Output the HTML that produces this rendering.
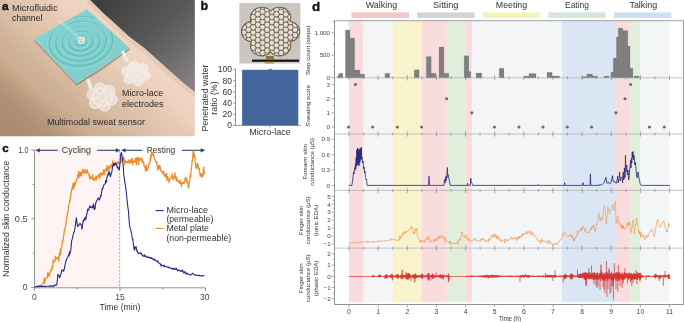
<!DOCTYPE html>
<html><head><meta charset="utf-8"><style>
html,body{margin:0;padding:0;background:#fff;width:685px;height:322px;overflow:hidden}
svg{display:block;font-family:"Liberation Sans", sans-serif;will-change:transform}
</style></head><body>
<svg xmlns="http://www.w3.org/2000/svg" width="685" height="322" viewBox="0 0 685 322" font-family='"Liberation Sans", sans-serif'>
<rect width="685" height="322" fill="#fff"/>
<defs>
<linearGradient id="skin" gradientUnits="userSpaceOnUse" x1="89.9" y1="0" x2="-5.8" y2="108.9"><stop offset="0" stop-color="#f0d6c4"/><stop offset="0.15" stop-color="#eed2c0"/><stop offset="0.25" stop-color="#e6cab4"/><stop offset="0.45" stop-color="#dbbea6"/><stop offset="0.6" stop-color="#d0b298"/><stop offset="0.7" stop-color="#cbac90"/><stop offset="0.75" stop-color="#c6a689"/><stop offset="0.8" stop-color="#b99b7e"/><stop offset="0.9" stop-color="#b09178"/><stop offset="1" stop-color="#ab8c72"/></linearGradient>
<linearGradient id="dark" gradientUnits="userSpaceOnUse" x1="110" y1="0" x2="190" y2="85"><stop offset="0" stop-color="#404040"/><stop offset="0.45" stop-color="#595859"/><stop offset="0.75" stop-color="#6f6e6f"/><stop offset="1" stop-color="#877e85"/></linearGradient>
<linearGradient id="dark2" gradientUnits="userSpaceOnUse" x1="130" y1="25" x2="192" y2="88"><stop offset="0" stop-color="#6e6e6e" stop-opacity="0"/><stop offset="1" stop-color="#707070" stop-opacity="0.9"/></linearGradient>
<linearGradient id="teal" x1="0" y1="0" x2="0.8" y2="1"><stop offset="0" stop-color="#88d2d5"/><stop offset="0.5" stop-color="#84d0d0"/><stop offset="1" stop-color="#80cecb"/></linearGradient>
<pattern id="lace" width="2.8" height="2.42" patternUnits="userSpaceOnUse" patternTransform="rotate(15)"><g fill="none" stroke="#f6f2ee" stroke-width="0.5" stroke-opacity="0.85"><circle cx="1.4" cy="1.21" r="1.05"/><circle cx="0" cy="0" r="1.05"/><circle cx="2.8" cy="0" r="1.05"/><circle cx="0" cy="2.42" r="1.05"/><circle cx="2.8" cy="2.42" r="1.05"/></g></pattern>
<clipPath id="photoA"><rect x="0" y="0" width="194.8" height="136.2"/></clipPath>
<clipPath id="photoB"><rect x="239.2" y="3.0" width="61.4" height="60.7"/></clipPath>
<clipPath id="devclip"><path d="M34,39 L87,9.3 L129.5,48 L100,68.9 L76.3,83.8 Z"/></clipPath>
<radialGradient id="skinhi" cx="0.5" cy="0.5" r="0.5"><stop offset="0" stop-color="#d6bcaa" stop-opacity="0.8"/><stop offset="1" stop-color="#d6bcaa" stop-opacity="0"/></radialGradient>
</defs>
<g clip-path="url(#photoA)">
<rect x="0" y="0" width="195" height="137" fill="url(#skin)"/>
<path d="M89.9,0 L102.4,12.4 L114.8,23.6 L129.7,37.3 L144.8,48.6 L157.3,59.8 L169.7,70.9 L182.1,82.1 L194.5,92 L197,94 L197,0 Z" fill="url(#dark)"/>
<path d="M87.6,0.8 L100.1,13.2 L112.5,24.4 L127.4,38.1 L142.5,49.4 L155,60.6 L167.4,71.7 L179.8,82.9 L192.2,92.8 L196,95.5" fill="none" stroke="#e2c7b3" stroke-width="4.5" opacity="0.8"/>
<path d="M34,39 L76.3,83.8 L100,68.9 L129.5,48 L129.8,50 L100.3,70.9 L76.6,85.8 L34.2,41 Z" fill="#8a6e5a" opacity="0.6"/>
<path d="M34,39 L87,9.3 L129.5,48 L100,68.9 L76.3,83.8 Z" fill="url(#teal)"/>
<g clip-path="url(#devclip)">
<filter id="soft" x="-10%" y="-10%" width="120%" height="120%"><feGaussianBlur stdDeviation="0.7"/></filter>
<g fill="none" filter="url(#soft)">
<ellipse cx="81" cy="41.2" rx="6.0" ry="4.6" transform="rotate(-8 81 41.2)" stroke="#68c4ba" stroke-width="1.9"/>
<ellipse cx="81" cy="43.0" rx="7.5" ry="5.7" transform="rotate(-8 81 43)" stroke="#90d6d8" stroke-width="1.0"/>
<ellipse cx="81" cy="41.2" rx="12.5" ry="9.5" transform="rotate(-8 81 41.2)" stroke="#68c4ba" stroke-width="1.9"/>
<ellipse cx="81" cy="43.0" rx="14.0" ry="10.6" transform="rotate(-8 81 43)" stroke="#90d6d8" stroke-width="1.0"/>
<ellipse cx="81" cy="41.2" rx="19.0" ry="14.4" transform="rotate(-8 81 41.2)" stroke="#68c4ba" stroke-width="1.9"/>
<ellipse cx="81" cy="43.0" rx="20.5" ry="15.6" transform="rotate(-8 81 43)" stroke="#90d6d8" stroke-width="1.0"/>
<ellipse cx="81" cy="41.2" rx="25.5" ry="19.4" transform="rotate(-8 81 41.2)" stroke="#68c4ba" stroke-width="1.9"/>
<ellipse cx="81" cy="43.0" rx="27.0" ry="20.5" transform="rotate(-8 81 43)" stroke="#90d6d8" stroke-width="1.0"/>
<ellipse cx="81" cy="41.2" rx="32.0" ry="24.3" transform="rotate(-8 81 41.2)" stroke="#68c4ba" stroke-width="1.9"/>
<ellipse cx="81" cy="43.0" rx="33.5" ry="25.5" transform="rotate(-8 81 43)" stroke="#90d6d8" stroke-width="1.0"/>
</g>
</g>
<path d="M58,20.5 L77.5,37.8 M59.8,19.8 L79,36.8" stroke="#d6efe9" stroke-width="0.6" fill="none"/>
<circle cx="81.3" cy="40.3" r="3.7" fill="#e6ebe8"/>
<g fill="#8a8f8c"><circle cx="79.8" cy="39.2" r="0.6"/><circle cx="82.3" cy="39" r="0.6"/><circle cx="80.6" cy="41.3" r="0.6"/><circle cx="83" cy="41.2" r="0.6"/><circle cx="81.4" cy="43" r="0.5"/><circle cx="78.8" cy="41.3" r="0.5"/></g>
<path d="M121,51.5 L124,50.5 L129,61 L126,62.5 Z" fill="#ececec"/>
<path d="M86,79.5 L89.5,78.3 L92.8,88 L89.3,89.5 Z" fill="#ececec"/>
<clipPath id="flc1"><ellipse cx="136.00" cy="73.60" rx="8.99" ry="7.73"/><ellipse cx="144.64" cy="75.74" rx="5.51" ry="4.74"/><ellipse cx="138.17" cy="81.10" rx="5.51" ry="4.74"/><ellipse cx="129.53" cy="78.97" rx="5.51" ry="4.74"/><ellipse cx="127.36" cy="71.46" rx="5.51" ry="4.74"/><ellipse cx="133.83" cy="66.10" rx="5.51" ry="4.74"/><ellipse cx="142.47" cy="68.23" rx="5.51" ry="4.74"/></clipPath>
<g fill="none" stroke="#eeeae6" stroke-width="1.0"><ellipse cx="136.00" cy="73.60" rx="8.99" ry="7.73"/><ellipse cx="144.64" cy="75.74" rx="5.51" ry="4.74"/><ellipse cx="138.17" cy="81.10" rx="5.51" ry="4.74"/><ellipse cx="129.53" cy="78.97" rx="5.51" ry="4.74"/><ellipse cx="127.36" cy="71.46" rx="5.51" ry="4.74"/><ellipse cx="133.83" cy="66.10" rx="5.51" ry="4.74"/><ellipse cx="142.47" cy="68.23" rx="5.51" ry="4.74"/></g>
<g opacity="0.18"><g fill="#f4ece6"><ellipse cx="136.00" cy="73.60" rx="8.99" ry="7.73"/><ellipse cx="144.64" cy="75.74" rx="5.51" ry="4.74"/><ellipse cx="138.17" cy="81.10" rx="5.51" ry="4.74"/><ellipse cx="129.53" cy="78.97" rx="5.51" ry="4.74"/><ellipse cx="127.36" cy="71.46" rx="5.51" ry="4.74"/><ellipse cx="133.83" cy="66.10" rx="5.51" ry="4.74"/><ellipse cx="142.47" cy="68.23" rx="5.51" ry="4.74"/></g></g>
<rect x="119.50" y="57.10" width="33.00" height="33.00" fill="url(#lace)" clip-path="url(#flc1)"/>
<clipPath id="flc2"><ellipse cx="102.20" cy="97.00" rx="9.61" ry="8.94"/><ellipse cx="111.44" cy="99.47" rx="5.89" ry="5.48"/><ellipse cx="104.52" cy="105.67" rx="5.89" ry="5.48"/><ellipse cx="95.28" cy="103.20" rx="5.89" ry="5.48"/><ellipse cx="92.96" cy="94.53" rx="5.89" ry="5.48"/><ellipse cx="99.88" cy="88.33" rx="5.89" ry="5.48"/><ellipse cx="109.12" cy="90.80" rx="5.89" ry="5.48"/></clipPath>
<g fill="none" stroke="#eeeae6" stroke-width="1.0"><ellipse cx="102.20" cy="97.00" rx="9.61" ry="8.94"/><ellipse cx="111.44" cy="99.47" rx="5.89" ry="5.48"/><ellipse cx="104.52" cy="105.67" rx="5.89" ry="5.48"/><ellipse cx="95.28" cy="103.20" rx="5.89" ry="5.48"/><ellipse cx="92.96" cy="94.53" rx="5.89" ry="5.48"/><ellipse cx="99.88" cy="88.33" rx="5.89" ry="5.48"/><ellipse cx="109.12" cy="90.80" rx="5.89" ry="5.48"/></g>
<g opacity="0.18"><g fill="#f4ece6"><ellipse cx="102.20" cy="97.00" rx="9.61" ry="8.94"/><ellipse cx="111.44" cy="99.47" rx="5.89" ry="5.48"/><ellipse cx="104.52" cy="105.67" rx="5.89" ry="5.48"/><ellipse cx="95.28" cy="103.20" rx="5.89" ry="5.48"/><ellipse cx="92.96" cy="94.53" rx="5.89" ry="5.48"/><ellipse cx="99.88" cy="88.33" rx="5.89" ry="5.48"/><ellipse cx="109.12" cy="90.80" rx="5.89" ry="5.48"/></g></g>
<rect x="84.70" y="79.50" width="35.00" height="35.00" fill="url(#lace)" clip-path="url(#flc2)"/>
</g>
<text x="2.00" y="10.00" font-size="11.5" fill="#111" text-anchor="start" font-weight="bold" textLength="6.6" lengthAdjust="spacingAndGlyphs" stroke="#111" stroke-width="0.4">a</text>
<text x="12.10" y="10.70" font-size="8.9" fill="#2a2a2a" text-anchor="start" font-weight="normal" textLength="45.6" lengthAdjust="spacingAndGlyphs" >Microfluidic</text>
<text x="12.10" y="20.90" font-size="8.9" fill="#2a2a2a" text-anchor="start" font-weight="normal" textLength="30.3" lengthAdjust="spacingAndGlyphs" >channel</text>
<text x="122.10" y="96.40" font-size="8.9" fill="#2a2a2a" text-anchor="start" font-weight="normal" textLength="41" lengthAdjust="spacingAndGlyphs" >Micro-lace</text>
<text x="122.10" y="106.50" font-size="8.9" fill="#2a2a2a" text-anchor="start" font-weight="normal" textLength="41.5" lengthAdjust="spacingAndGlyphs" >electrodes</text>
<text x="47.00" y="124.90" font-size="8.9" fill="#2a2a2a" text-anchor="start" font-weight="normal" textLength="98" lengthAdjust="spacingAndGlyphs" >Multimodal sweat sensor</text>
<text x="200.60" y="10.30" font-size="12.5" fill="#111" text-anchor="start" font-weight="bold" stroke="#111" stroke-width="0.35">b</text>
<g clip-path="url(#photoB)">
<rect x="239.2" y="3.0" width="61.4" height="60.7" fill="#cac6c3"/>
<g fill="#74602e" stroke="#74602e" stroke-width="2.0"><ellipse cx="270.60" cy="31.60" rx="17.73" ry="16.14"/><ellipse cx="288.33" cy="31.60" rx="10.87" ry="9.89"/><ellipse cx="279.47" cy="45.57" rx="10.87" ry="9.89"/><ellipse cx="261.73" cy="45.57" rx="10.87" ry="9.89"/><ellipse cx="252.87" cy="31.60" rx="10.87" ry="9.89"/><ellipse cx="261.73" cy="17.63" rx="10.87" ry="9.89"/><ellipse cx="279.47" cy="17.63" rx="10.87" ry="9.89"/></g>
<g fill="#756850"><ellipse cx="270.60" cy="31.60" rx="17.73" ry="16.14"/><ellipse cx="288.33" cy="31.60" rx="10.87" ry="9.89"/><ellipse cx="279.47" cy="45.57" rx="10.87" ry="9.89"/><ellipse cx="261.73" cy="45.57" rx="10.87" ry="9.89"/><ellipse cx="252.87" cy="31.60" rx="10.87" ry="9.89"/><ellipse cx="261.73" cy="17.63" rx="10.87" ry="9.89"/><ellipse cx="279.47" cy="17.63" rx="10.87" ry="9.89"/></g>
<clipPath id="fclip"><ellipse cx="270.60" cy="31.60" rx="17.73" ry="16.14"/><ellipse cx="288.33" cy="31.60" rx="10.87" ry="9.89"/><ellipse cx="279.47" cy="45.57" rx="10.87" ry="9.89"/><ellipse cx="261.73" cy="45.57" rx="10.87" ry="9.89"/><ellipse cx="252.87" cy="31.60" rx="10.87" ry="9.89"/><ellipse cx="261.73" cy="17.63" rx="10.87" ry="9.89"/><ellipse cx="279.47" cy="17.63" rx="10.87" ry="9.89"/></clipPath>
<g fill="#e2deda" clip-path="url(#fclip)"><circle cx="234.60" cy="-8.80" r="2.25"/><circle cx="234.60" cy="-3.65" r="2.25"/><circle cx="234.60" cy="1.50" r="2.25"/><circle cx="234.60" cy="6.65" r="2.25"/><circle cx="234.60" cy="11.80" r="2.25"/><circle cx="234.60" cy="16.95" r="2.25"/><circle cx="234.60" cy="22.10" r="2.25"/><circle cx="234.60" cy="27.25" r="2.25"/><circle cx="234.60" cy="32.40" r="2.25"/><circle cx="234.60" cy="37.55" r="2.25"/><circle cx="234.60" cy="42.70" r="2.25"/><circle cx="234.60" cy="47.85" r="2.25"/><circle cx="234.60" cy="53.00" r="2.25"/><circle cx="234.60" cy="58.15" r="2.25"/><circle cx="234.60" cy="63.30" r="2.25"/><circle cx="234.60" cy="68.45" r="2.25"/><circle cx="234.60" cy="73.60" r="2.25"/><circle cx="239.25" cy="-6.23" r="2.25"/><circle cx="239.25" cy="-1.08" r="2.25"/><circle cx="239.25" cy="4.07" r="2.25"/><circle cx="239.25" cy="9.22" r="2.25"/><circle cx="239.25" cy="14.37" r="2.25"/><circle cx="239.25" cy="19.52" r="2.25"/><circle cx="239.25" cy="24.67" r="2.25"/><circle cx="239.25" cy="29.82" r="2.25"/><circle cx="239.25" cy="34.98" r="2.25"/><circle cx="239.25" cy="40.12" r="2.25"/><circle cx="239.25" cy="45.28" r="2.25"/><circle cx="239.25" cy="50.43" r="2.25"/><circle cx="239.25" cy="55.58" r="2.25"/><circle cx="239.25" cy="60.73" r="2.25"/><circle cx="239.25" cy="65.88" r="2.25"/><circle cx="239.25" cy="71.03" r="2.25"/><circle cx="239.25" cy="76.17" r="2.25"/><circle cx="243.90" cy="-8.80" r="2.25"/><circle cx="243.90" cy="-3.65" r="2.25"/><circle cx="243.90" cy="1.50" r="2.25"/><circle cx="243.90" cy="6.65" r="2.25"/><circle cx="243.90" cy="11.80" r="2.25"/><circle cx="243.90" cy="16.95" r="2.25"/><circle cx="243.90" cy="22.10" r="2.25"/><circle cx="243.90" cy="27.25" r="2.25"/><circle cx="243.90" cy="32.40" r="2.25"/><circle cx="243.90" cy="37.55" r="2.25"/><circle cx="243.90" cy="42.70" r="2.25"/><circle cx="243.90" cy="47.85" r="2.25"/><circle cx="243.90" cy="53.00" r="2.25"/><circle cx="243.90" cy="58.15" r="2.25"/><circle cx="243.90" cy="63.30" r="2.25"/><circle cx="243.90" cy="68.45" r="2.25"/><circle cx="243.90" cy="73.60" r="2.25"/><circle cx="248.55" cy="-6.23" r="2.25"/><circle cx="248.55" cy="-1.08" r="2.25"/><circle cx="248.55" cy="4.07" r="2.25"/><circle cx="248.55" cy="9.22" r="2.25"/><circle cx="248.55" cy="14.37" r="2.25"/><circle cx="248.55" cy="19.52" r="2.25"/><circle cx="248.55" cy="24.67" r="2.25"/><circle cx="248.55" cy="29.82" r="2.25"/><circle cx="248.55" cy="34.98" r="2.25"/><circle cx="248.55" cy="40.12" r="2.25"/><circle cx="248.55" cy="45.28" r="2.25"/><circle cx="248.55" cy="50.43" r="2.25"/><circle cx="248.55" cy="55.58" r="2.25"/><circle cx="248.55" cy="60.73" r="2.25"/><circle cx="248.55" cy="65.88" r="2.25"/><circle cx="248.55" cy="71.03" r="2.25"/><circle cx="248.55" cy="76.17" r="2.25"/><circle cx="253.20" cy="-8.80" r="2.25"/><circle cx="253.20" cy="-3.65" r="2.25"/><circle cx="253.20" cy="1.50" r="2.25"/><circle cx="253.20" cy="6.65" r="2.25"/><circle cx="253.20" cy="11.80" r="2.25"/><circle cx="253.20" cy="16.95" r="2.25"/><circle cx="253.20" cy="22.10" r="2.25"/><circle cx="253.20" cy="27.25" r="2.25"/><circle cx="253.20" cy="32.40" r="2.25"/><circle cx="253.20" cy="37.55" r="2.25"/><circle cx="253.20" cy="42.70" r="2.25"/><circle cx="253.20" cy="47.85" r="2.25"/><circle cx="253.20" cy="53.00" r="2.25"/><circle cx="253.20" cy="58.15" r="2.25"/><circle cx="253.20" cy="63.30" r="2.25"/><circle cx="253.20" cy="68.45" r="2.25"/><circle cx="253.20" cy="73.60" r="2.25"/><circle cx="257.85" cy="-6.23" r="2.25"/><circle cx="257.85" cy="-1.08" r="2.25"/><circle cx="257.85" cy="4.07" r="2.25"/><circle cx="257.85" cy="9.22" r="2.25"/><circle cx="257.85" cy="14.37" r="2.25"/><circle cx="257.85" cy="19.52" r="2.25"/><circle cx="257.85" cy="24.67" r="2.25"/><circle cx="257.85" cy="29.82" r="2.25"/><circle cx="257.85" cy="34.98" r="2.25"/><circle cx="257.85" cy="40.12" r="2.25"/><circle cx="257.85" cy="45.28" r="2.25"/><circle cx="257.85" cy="50.43" r="2.25"/><circle cx="257.85" cy="55.58" r="2.25"/><circle cx="257.85" cy="60.73" r="2.25"/><circle cx="257.85" cy="65.88" r="2.25"/><circle cx="257.85" cy="71.03" r="2.25"/><circle cx="257.85" cy="76.17" r="2.25"/><circle cx="262.50" cy="-8.80" r="2.25"/><circle cx="262.50" cy="-3.65" r="2.25"/><circle cx="262.50" cy="1.50" r="2.25"/><circle cx="262.50" cy="6.65" r="2.25"/><circle cx="262.50" cy="11.80" r="2.25"/><circle cx="262.50" cy="16.95" r="2.25"/><circle cx="262.50" cy="22.10" r="2.25"/><circle cx="262.50" cy="27.25" r="2.25"/><circle cx="262.50" cy="32.40" r="2.25"/><circle cx="262.50" cy="37.55" r="2.25"/><circle cx="262.50" cy="42.70" r="2.25"/><circle cx="262.50" cy="47.85" r="2.25"/><circle cx="262.50" cy="53.00" r="2.25"/><circle cx="262.50" cy="58.15" r="2.25"/><circle cx="262.50" cy="63.30" r="2.25"/><circle cx="262.50" cy="68.45" r="2.25"/><circle cx="262.50" cy="73.60" r="2.25"/><circle cx="267.15" cy="-6.23" r="2.25"/><circle cx="267.15" cy="-1.08" r="2.25"/><circle cx="267.15" cy="4.07" r="2.25"/><circle cx="267.15" cy="9.22" r="2.25"/><circle cx="267.15" cy="14.37" r="2.25"/><circle cx="267.15" cy="19.52" r="2.25"/><circle cx="267.15" cy="24.67" r="2.25"/><circle cx="267.15" cy="29.82" r="2.25"/><circle cx="267.15" cy="34.98" r="2.25"/><circle cx="267.15" cy="40.12" r="2.25"/><circle cx="267.15" cy="45.28" r="2.25"/><circle cx="267.15" cy="50.43" r="2.25"/><circle cx="267.15" cy="55.58" r="2.25"/><circle cx="267.15" cy="60.73" r="2.25"/><circle cx="267.15" cy="65.88" r="2.25"/><circle cx="267.15" cy="71.03" r="2.25"/><circle cx="267.15" cy="76.17" r="2.25"/><circle cx="271.80" cy="-8.80" r="2.25"/><circle cx="271.80" cy="-3.65" r="2.25"/><circle cx="271.80" cy="1.50" r="2.25"/><circle cx="271.80" cy="6.65" r="2.25"/><circle cx="271.80" cy="11.80" r="2.25"/><circle cx="271.80" cy="16.95" r="2.25"/><circle cx="271.80" cy="22.10" r="2.25"/><circle cx="271.80" cy="27.25" r="2.25"/><circle cx="271.80" cy="32.40" r="2.25"/><circle cx="271.80" cy="37.55" r="2.25"/><circle cx="271.80" cy="42.70" r="2.25"/><circle cx="271.80" cy="47.85" r="2.25"/><circle cx="271.80" cy="53.00" r="2.25"/><circle cx="271.80" cy="58.15" r="2.25"/><circle cx="271.80" cy="63.30" r="2.25"/><circle cx="271.80" cy="68.45" r="2.25"/><circle cx="271.80" cy="73.60" r="2.25"/><circle cx="276.45" cy="-6.23" r="2.25"/><circle cx="276.45" cy="-1.08" r="2.25"/><circle cx="276.45" cy="4.07" r="2.25"/><circle cx="276.45" cy="9.22" r="2.25"/><circle cx="276.45" cy="14.37" r="2.25"/><circle cx="276.45" cy="19.52" r="2.25"/><circle cx="276.45" cy="24.67" r="2.25"/><circle cx="276.45" cy="29.82" r="2.25"/><circle cx="276.45" cy="34.98" r="2.25"/><circle cx="276.45" cy="40.12" r="2.25"/><circle cx="276.45" cy="45.28" r="2.25"/><circle cx="276.45" cy="50.43" r="2.25"/><circle cx="276.45" cy="55.58" r="2.25"/><circle cx="276.45" cy="60.73" r="2.25"/><circle cx="276.45" cy="65.88" r="2.25"/><circle cx="276.45" cy="71.03" r="2.25"/><circle cx="276.45" cy="76.17" r="2.25"/><circle cx="281.10" cy="-8.80" r="2.25"/><circle cx="281.10" cy="-3.65" r="2.25"/><circle cx="281.10" cy="1.50" r="2.25"/><circle cx="281.10" cy="6.65" r="2.25"/><circle cx="281.10" cy="11.80" r="2.25"/><circle cx="281.10" cy="16.95" r="2.25"/><circle cx="281.10" cy="22.10" r="2.25"/><circle cx="281.10" cy="27.25" r="2.25"/><circle cx="281.10" cy="32.40" r="2.25"/><circle cx="281.10" cy="37.55" r="2.25"/><circle cx="281.10" cy="42.70" r="2.25"/><circle cx="281.10" cy="47.85" r="2.25"/><circle cx="281.10" cy="53.00" r="2.25"/><circle cx="281.10" cy="58.15" r="2.25"/><circle cx="281.10" cy="63.30" r="2.25"/><circle cx="281.10" cy="68.45" r="2.25"/><circle cx="281.10" cy="73.60" r="2.25"/><circle cx="285.75" cy="-6.23" r="2.25"/><circle cx="285.75" cy="-1.08" r="2.25"/><circle cx="285.75" cy="4.07" r="2.25"/><circle cx="285.75" cy="9.22" r="2.25"/><circle cx="285.75" cy="14.37" r="2.25"/><circle cx="285.75" cy="19.52" r="2.25"/><circle cx="285.75" cy="24.67" r="2.25"/><circle cx="285.75" cy="29.82" r="2.25"/><circle cx="285.75" cy="34.98" r="2.25"/><circle cx="285.75" cy="40.12" r="2.25"/><circle cx="285.75" cy="45.28" r="2.25"/><circle cx="285.75" cy="50.43" r="2.25"/><circle cx="285.75" cy="55.58" r="2.25"/><circle cx="285.75" cy="60.73" r="2.25"/><circle cx="285.75" cy="65.88" r="2.25"/><circle cx="285.75" cy="71.03" r="2.25"/><circle cx="285.75" cy="76.17" r="2.25"/><circle cx="290.40" cy="-8.80" r="2.25"/><circle cx="290.40" cy="-3.65" r="2.25"/><circle cx="290.40" cy="1.50" r="2.25"/><circle cx="290.40" cy="6.65" r="2.25"/><circle cx="290.40" cy="11.80" r="2.25"/><circle cx="290.40" cy="16.95" r="2.25"/><circle cx="290.40" cy="22.10" r="2.25"/><circle cx="290.40" cy="27.25" r="2.25"/><circle cx="290.40" cy="32.40" r="2.25"/><circle cx="290.40" cy="37.55" r="2.25"/><circle cx="290.40" cy="42.70" r="2.25"/><circle cx="290.40" cy="47.85" r="2.25"/><circle cx="290.40" cy="53.00" r="2.25"/><circle cx="290.40" cy="58.15" r="2.25"/><circle cx="290.40" cy="63.30" r="2.25"/><circle cx="290.40" cy="68.45" r="2.25"/><circle cx="290.40" cy="73.60" r="2.25"/><circle cx="295.05" cy="-6.23" r="2.25"/><circle cx="295.05" cy="-1.08" r="2.25"/><circle cx="295.05" cy="4.07" r="2.25"/><circle cx="295.05" cy="9.22" r="2.25"/><circle cx="295.05" cy="14.37" r="2.25"/><circle cx="295.05" cy="19.52" r="2.25"/><circle cx="295.05" cy="24.67" r="2.25"/><circle cx="295.05" cy="29.82" r="2.25"/><circle cx="295.05" cy="34.98" r="2.25"/><circle cx="295.05" cy="40.12" r="2.25"/><circle cx="295.05" cy="45.28" r="2.25"/><circle cx="295.05" cy="50.43" r="2.25"/><circle cx="295.05" cy="55.58" r="2.25"/><circle cx="295.05" cy="60.73" r="2.25"/><circle cx="295.05" cy="65.88" r="2.25"/><circle cx="295.05" cy="71.03" r="2.25"/><circle cx="295.05" cy="76.17" r="2.25"/><circle cx="299.70" cy="-8.80" r="2.25"/><circle cx="299.70" cy="-3.65" r="2.25"/><circle cx="299.70" cy="1.50" r="2.25"/><circle cx="299.70" cy="6.65" r="2.25"/><circle cx="299.70" cy="11.80" r="2.25"/><circle cx="299.70" cy="16.95" r="2.25"/><circle cx="299.70" cy="22.10" r="2.25"/><circle cx="299.70" cy="27.25" r="2.25"/><circle cx="299.70" cy="32.40" r="2.25"/><circle cx="299.70" cy="37.55" r="2.25"/><circle cx="299.70" cy="42.70" r="2.25"/><circle cx="299.70" cy="47.85" r="2.25"/><circle cx="299.70" cy="53.00" r="2.25"/><circle cx="299.70" cy="58.15" r="2.25"/><circle cx="299.70" cy="63.30" r="2.25"/><circle cx="299.70" cy="68.45" r="2.25"/><circle cx="299.70" cy="73.60" r="2.25"/><circle cx="304.35" cy="-6.23" r="2.25"/><circle cx="304.35" cy="-1.08" r="2.25"/><circle cx="304.35" cy="4.07" r="2.25"/><circle cx="304.35" cy="9.22" r="2.25"/><circle cx="304.35" cy="14.37" r="2.25"/><circle cx="304.35" cy="19.52" r="2.25"/><circle cx="304.35" cy="24.67" r="2.25"/><circle cx="304.35" cy="29.82" r="2.25"/><circle cx="304.35" cy="34.98" r="2.25"/><circle cx="304.35" cy="40.12" r="2.25"/><circle cx="304.35" cy="45.28" r="2.25"/><circle cx="304.35" cy="50.43" r="2.25"/><circle cx="304.35" cy="55.58" r="2.25"/><circle cx="304.35" cy="60.73" r="2.25"/><circle cx="304.35" cy="65.88" r="2.25"/><circle cx="304.35" cy="71.03" r="2.25"/><circle cx="304.35" cy="76.17" r="2.25"/><circle cx="309.00" cy="-8.80" r="2.25"/><circle cx="309.00" cy="-3.65" r="2.25"/><circle cx="309.00" cy="1.50" r="2.25"/><circle cx="309.00" cy="6.65" r="2.25"/><circle cx="309.00" cy="11.80" r="2.25"/><circle cx="309.00" cy="16.95" r="2.25"/><circle cx="309.00" cy="22.10" r="2.25"/><circle cx="309.00" cy="27.25" r="2.25"/><circle cx="309.00" cy="32.40" r="2.25"/><circle cx="309.00" cy="37.55" r="2.25"/><circle cx="309.00" cy="42.70" r="2.25"/><circle cx="309.00" cy="47.85" r="2.25"/><circle cx="309.00" cy="53.00" r="2.25"/><circle cx="309.00" cy="58.15" r="2.25"/><circle cx="309.00" cy="63.30" r="2.25"/><circle cx="309.00" cy="68.45" r="2.25"/><circle cx="309.00" cy="73.60" r="2.25"/></g>
<rect x="252" y="59.6" width="47" height="2.2" fill="#111"/>
<rect x="266" y="56" width="8" height="3.6" fill="#8a7440"/>
<rect x="265" y="61.8" width="9" height="2" fill="#b99a50"/>
</g>
<g stroke="#777" stroke-width="0.8" fill="none">
<path d="M235.5,69.3 L235.5,125.4 L300.8,125.4"/>
<path d="M233.3,125.40 L235.5,125.40"/>
<path d="M233.3,114.20 L235.5,114.20"/>
<path d="M233.3,103.00 L235.5,103.00"/>
<path d="M233.3,91.80 L235.5,91.80"/>
<path d="M233.3,80.60 L235.5,80.60"/>
<path d="M233.3,69.40 L235.5,69.40"/>
<path d="M234.3,119.80 L235.5,119.80"/>
<path d="M234.3,108.60 L235.5,108.60"/>
<path d="M234.3,97.40 L235.5,97.40"/>
<path d="M234.3,86.20 L235.5,86.20"/>
<path d="M234.3,75.00 L235.5,75.00"/>
<path d="M270.2,125.4 L270.2,127.2"/>
</g>
<rect x="242.1" y="69.8" width="56.2" height="55.6" fill="#45669c"/>
<path d="M268.5,69.3 L272,69.3" stroke="#223" stroke-width="0.6"/>
<text x="232.00" y="128.40" font-size="8.5" fill="#333" text-anchor="end" font-weight="normal" >0</text>
<text x="232.00" y="117.20" font-size="8.5" fill="#333" text-anchor="end" font-weight="normal" >20</text>
<text x="232.00" y="106.00" font-size="8.5" fill="#333" text-anchor="end" font-weight="normal" >40</text>
<text x="232.00" y="94.80" font-size="8.5" fill="#333" text-anchor="end" font-weight="normal" >60</text>
<text x="232.00" y="83.60" font-size="8.5" fill="#333" text-anchor="end" font-weight="normal" >80</text>
<text x="232.00" y="72.40" font-size="8.5" fill="#333" text-anchor="end" font-weight="normal" >100</text>
<text x="207.60" y="98.00" font-size="8.8" fill="#333" text-anchor="middle" font-weight="normal" transform="rotate(-90 207.60 98.00)" >Penetrated water</text>
<text x="217.20" y="98.00" font-size="8.8" fill="#333" text-anchor="middle" font-weight="normal" transform="rotate(-90 217.20 98.00)" >ratio (%)</text>
<text x="270.10" y="134.90" font-size="8.9" fill="#333" text-anchor="middle" font-weight="normal" textLength="41.5" lengthAdjust="spacingAndGlyphs" >Micro-lace</text>
<rect x="34.5" y="145.3" width="85.3" height="142.3" fill="#fef4f3"/>
<text x="2.20" y="152.20" font-size="11.5" fill="#111" text-anchor="start" font-weight="bold" textLength="6.4" lengthAdjust="spacingAndGlyphs" stroke="#111" stroke-width="0.45">c</text>
<g stroke="#777" stroke-width="0.8" fill="none">
<path d="M34.5,150 L34.5,287.8 L205.4,287.8"/>
<path d="M31.2,287.60 L34.5,287.60"/>
<path d="M31.2,218.80 L34.5,218.80"/>
<path d="M31.2,150.00 L34.5,150.00"/>
<path d="M32.6,253.20 L34.5,253.20"/>
<path d="M32.6,184.40 L34.5,184.40"/>
<path d="M34.50,287.8 L34.50,290.8"/>
<path d="M120.00,287.8 L120.00,290.8"/>
<path d="M205.50,287.8 L205.50,290.8"/>
<path d="M77.25,287.8 L77.25,289.6"/>
<path d="M162.75,287.8 L162.75,289.6"/>
</g>
<text x="28.60" y="153.00" font-size="8.5" fill="#444" text-anchor="end" font-weight="normal" textLength="10" lengthAdjust="spacingAndGlyphs" >1.0</text>
<text x="27.60" y="222.00" font-size="8.5" fill="#444" text-anchor="end" font-weight="normal" textLength="12.8" lengthAdjust="spacingAndGlyphs" >0.5</text>
<text x="27.40" y="290.30" font-size="8.5" fill="#444" text-anchor="end" font-weight="normal" >0</text>
<text x="34.30" y="299.60" font-size="8.5" fill="#444" text-anchor="middle" font-weight="normal" >0</text>
<text x="119.90" y="299.60" font-size="8.5" fill="#444" text-anchor="middle" font-weight="normal" >15</text>
<text x="204.80" y="299.60" font-size="8.5" fill="#444" text-anchor="middle" font-weight="normal" >30</text>
<text x="119.90" y="310.20" font-size="8.6" fill="#333" text-anchor="middle" font-weight="normal" textLength="40.9" lengthAdjust="spacingAndGlyphs" >Time (min)</text>
<text x="9.40" y="218.90" font-size="8.9" fill="#333" text-anchor="middle" font-weight="normal" textLength="116.3" lengthAdjust="spacingAndGlyphs" transform="rotate(-90 9.40 218.90)" >Normalized skin conductance</text>
<g stroke="#2f4670" stroke-width="1.1" fill="#2f4670">
<path d="M38.5,150.3 L57.8,150.3" />
<path d="M35.2,150.3 L39.8,148.2 L39.8,152.4 Z" stroke="none"/>
<path d="M97.2,150.3 L116.5,150.3" />
<path d="M120.4,150.3 L115.8,148.2 L115.8,152.4 Z" stroke="none"/>
<path d="M124.8,150.3 L142.5,150.3" />
<path d="M121,150.3 L125.6,148.2 L125.6,152.4 Z" stroke="none"/>
<path d="M182,150.3 L201.5,150.3" />
<path d="M205.3,150.3 L200.7,148.2 L200.7,152.4 Z" stroke="none"/>
</g>
<text x="76.40" y="153.40" font-size="8.9" fill="#333" text-anchor="middle" font-weight="normal" textLength="29.2" lengthAdjust="spacingAndGlyphs" >Cycling</text>
<text x="161.00" y="153.40" font-size="8.9" fill="#333" text-anchor="middle" font-weight="normal" textLength="28.5" lengthAdjust="spacingAndGlyphs" >Resting</text>
<path d="M119.7,151 L119.7,287.5" stroke="#e8707a" stroke-width="0.9" stroke-dasharray="2,1.6"/>
<polyline points="35.70,286.60 36.02,286.84 36.34,286.95 36.65,286.00 36.97,286.38 37.29,286.29 37.61,286.52 37.92,286.87 38.24,286.02 38.56,285.61 38.88,286.91 39.19,286.17 39.51,285.51 39.83,286.15 40.15,286.10 40.46,285.39 40.78,285.96 41.10,286.00 41.41,285.54 41.71,285.14 42.02,284.36 42.32,284.09 42.63,283.64 42.93,283.07 43.24,282.82 43.54,282.22 43.85,281.80 44.16,278.05 44.46,283.36 44.77,280.52 45.07,279.85 45.38,280.05 45.68,279.66 45.99,278.70 46.29,277.64 46.60,277.60 46.91,277.57 47.22,277.45 47.53,275.93 47.84,272.13 48.15,275.32 48.46,275.05 48.77,273.69 49.08,276.66 49.39,276.15 49.70,273.70 50.01,272.95 50.32,272.29 50.63,271.33 50.94,269.63 51.25,269.87 51.56,269.05 51.87,270.06 52.18,266.44 52.49,267.59 52.80,265.20 53.13,259.90 53.46,260.85 53.79,262.36 54.11,261.89 54.44,260.78 54.77,261.31 55.10,259.80 55.44,256.13 55.79,259.47 56.13,259.06 56.47,257.99 56.81,257.88 57.16,258.36 57.50,257.40 57.80,257.26 58.10,257.11 58.40,257.91 58.70,261.19 59.00,258.20 59.33,253.07 59.66,255.79 59.99,253.46 60.31,248.82 60.64,254.74 60.97,249.46 61.30,248.10 61.70,247.28 62.10,245.00 62.42,240.31 62.74,241.04 63.06,240.15 63.38,236.81 63.70,235.70 64.03,233.69 64.36,229.28 64.69,230.76 65.01,228.13 65.34,226.59 65.67,225.78 66.00,223.30 66.33,220.94 66.66,217.64 66.99,216.79 67.31,214.68 67.64,212.37 67.97,212.48 68.30,207.80 68.60,205.56 68.90,205.00 69.20,203.91 69.50,202.31 69.80,199.80 70.10,200.70 70.40,197.28 70.70,195.70 71.00,193.12 71.30,192.45 71.60,190.40 71.90,188.00 72.21,188.17 72.52,188.35 72.83,183.59 73.14,189.44 73.45,186.48 73.76,186.11 74.07,187.82 74.38,182.26 74.69,185.21 75.00,184.80 75.31,184.49 75.62,183.11 75.93,182.03 76.24,181.01 76.55,180.12 76.86,179.52 77.17,178.95 77.48,177.45 77.79,174.50 78.10,175.50 78.41,174.91 78.72,171.39 79.03,178.21 79.34,174.06 79.65,173.41 79.96,172.12 80.27,176.12 80.58,173.04 80.89,172.25 81.20,172.40 81.54,175.45 81.89,172.93 82.23,172.77 82.57,169.72 82.91,172.38 83.26,172.40 83.60,173.20 83.90,169.23 84.20,173.29 84.50,172.81 84.80,172.88 85.10,172.52 85.40,171.00 85.70,170.18 86.00,170.47 86.30,172.20 86.60,172.99 86.90,171.71 87.20,169.66 87.50,172.10 87.81,172.12 88.12,173.29 88.43,173.16 88.74,174.36 89.05,175.06 89.36,177.23 89.67,175.13 89.98,179.29 90.29,176.59 90.60,177.10 90.92,177.20 91.23,177.90 91.55,177.64 91.87,178.44 92.18,178.25 92.50,174.98 92.82,179.48 93.13,178.50 93.45,179.25 93.77,180.39 94.08,178.35 94.40,180.20 94.71,179.73 95.02,180.11 95.33,177.08 95.64,178.16 95.95,177.63 96.26,176.38 96.57,179.55 96.88,176.36 97.19,176.29 97.50,176.30 97.81,176.07 98.12,175.99 98.43,176.05 98.74,174.95 99.05,174.41 99.35,178.52 99.66,174.58 99.97,177.89 100.28,173.95 100.59,172.85 100.90,173.30 101.25,173.86 101.60,174.22 101.95,175.39 102.30,173.17 102.65,173.97 103.00,174.00 103.33,173.63 103.66,169.57 103.99,172.32 104.32,174.64 104.65,171.66 104.98,170.24 105.31,169.68 105.64,169.46 105.97,168.33 106.30,168.40 106.62,171.55 106.95,165.55 107.27,169.96 107.60,170.10 107.92,169.13 108.23,169.23 108.55,166.03 108.86,168.43 109.18,169.91 109.49,168.28 109.81,166.41 110.12,167.20 110.44,166.22 110.75,165.43 111.07,165.01 111.38,164.49 111.70,164.60 112.01,167.96 112.33,165.09 112.64,164.07 112.96,160.63 113.27,164.66 113.59,164.68 113.90,162.61 114.21,164.63 114.53,163.64 114.84,164.49 115.16,163.81 115.47,163.93 115.79,164.18 116.10,164.00 116.41,163.78 116.71,165.28 117.02,161.76 117.33,163.27 117.64,163.86 117.94,162.61 118.25,163.05 118.56,161.55 118.86,163.32 119.17,163.24 119.48,164.23 119.79,162.59 120.09,162.21 120.40,162.40 120.71,162.80 121.03,162.01 121.34,161.54 121.66,157.94 121.97,161.30 122.29,160.44 122.60,160.20 122.91,160.72 123.22,158.22 123.52,156.54 123.83,157.87 124.14,158.92 124.45,160.34 124.76,164.61 125.07,161.70 125.38,160.79 125.68,161.36 125.99,161.56 126.30,161.80 126.61,162.33 126.92,161.36 127.22,162.37 127.53,162.74 127.84,161.45 128.15,162.79 128.46,162.16 128.77,159.94 129.07,162.60 129.38,162.72 129.69,162.84 130.00,162.50 130.31,160.47 130.63,163.02 130.94,159.28 131.25,162.19 131.57,161.63 131.88,160.81 132.19,158.39 132.51,161.74 132.82,164.59 133.13,161.59 133.45,162.22 133.76,161.14 134.07,162.07 134.39,161.39 134.70,161.70 135.00,159.14 135.30,161.97 135.60,158.18 135.90,159.34 136.20,159.90 136.50,164.80 136.80,157.35 137.10,160.81 137.40,158.24 137.70,158.94 138.00,161.31 138.30,157.34 138.60,164.36 138.90,161.30 139.24,160.17 139.57,160.27 139.91,158.08 140.25,158.97 140.59,159.75 140.93,159.14 141.26,158.73 141.60,157.90 141.90,161.95 142.20,159.63 142.50,160.33 142.80,160.25 143.10,162.90 143.40,163.49 143.70,161.80 144.00,165.60 144.31,166.67 144.62,166.20 144.93,167.19 145.24,167.80 145.55,171.31 145.86,168.62 146.17,164.96 146.48,169.31 146.79,170.26 147.10,170.30 147.43,167.93 147.76,168.95 148.09,168.08 148.41,166.86 148.74,165.53 149.07,162.88 149.40,164.00 149.71,162.41 150.02,162.06 150.33,157.21 150.64,160.41 150.95,154.10 151.26,155.73 151.57,156.62 151.88,155.73 152.19,152.32 152.50,153.20 152.83,154.19 153.16,153.38 153.49,155.46 153.81,154.90 154.14,158.37 154.47,158.11 154.80,159.40 155.12,160.41 155.44,160.36 155.76,162.22 156.08,161.08 156.40,162.63 156.72,162.18 157.04,165.41 157.36,165.28 157.68,170.29 158.00,167.20 158.31,165.50 158.61,167.48 158.92,168.43 159.23,165.71 159.53,168.81 159.84,165.91 160.15,165.97 160.45,169.56 160.76,170.67 161.07,170.46 161.37,171.41 161.68,170.85 161.99,172.46 162.29,171.52 162.60,172.60 162.91,173.44 163.22,173.22 163.53,174.43 163.84,171.17 164.15,175.12 164.46,176.28 164.77,175.79 165.08,175.83 165.39,174.29 165.70,176.53 166.01,176.30 166.32,177.74 166.63,173.37 166.94,180.47 167.25,179.06 167.56,176.34 167.87,177.46 168.18,179.20 168.49,180.04 168.80,180.40 169.12,182.85 169.44,179.06 169.76,179.59 170.08,178.89 170.40,178.03 170.72,178.28 171.04,177.54 171.36,176.50 171.68,176.24 172.00,176.00 172.30,173.70 172.60,177.52 172.90,178.88 173.20,179.67 173.50,180.00 173.80,177.87 174.10,176.84 174.40,175.57 174.70,175.64 175.00,172.60 175.33,178.38 175.67,176.43 176.00,178.00 176.31,181.00 176.62,177.20 176.93,179.84 177.23,180.11 177.54,179.87 177.85,180.92 178.16,180.94 178.47,182.27 178.77,181.76 179.08,182.55 179.39,181.63 179.70,183.50 180.01,179.84 180.31,182.21 180.62,183.39 180.93,183.08 181.23,183.32 181.54,186.77 181.85,182.97 182.15,182.72 182.46,183.14 182.77,183.36 183.07,182.43 183.38,182.18 183.69,182.44 183.99,183.48 184.30,182.70 184.64,182.21 184.98,178.27 185.32,180.67 185.66,177.49 186.00,179.00 186.31,177.57 186.63,181.11 186.94,182.65 187.26,180.50 187.57,181.76 187.89,182.54 188.20,187.40 188.50,186.56 188.80,187.99 189.10,184.20 189.40,182.47 189.70,181.11 190.00,176.55 190.30,174.73 190.60,177.30 190.93,173.38 191.26,168.90 191.59,167.48 191.91,164.20 192.24,160.17 192.57,160.41 192.90,154.00 193.20,150.97 193.50,153.83 193.80,151.62 194.10,157.70 194.40,153.70 194.72,157.22 195.04,158.75 195.36,162.55 195.68,165.77 196.00,168.00 196.30,166.75 196.60,168.25 196.90,166.81 197.20,163.73 197.50,163.30 197.80,164.10 198.10,165.98 198.40,167.62 198.70,169.07 199.00,169.67 199.30,168.37 199.60,172.47 199.90,173.40 200.23,176.57 200.56,173.05 200.89,174.48 201.21,173.82 201.54,175.64 201.87,174.40 202.20,177.30 202.52,175.42 202.84,173.74 203.16,175.59 203.48,167.05 203.80,167.20 204.15,171.37 204.50,174.20" fill="none" stroke="#ec8c2a" stroke-width="1.25" stroke-linejoin="round"/>
<polyline points="35.00,286.60 35.36,287.04 35.71,286.84 36.07,286.53 36.42,286.46 36.78,286.51 37.14,286.51 37.49,286.62 37.85,286.59 38.20,286.42 38.56,286.49 38.92,286.46 39.27,286.49 39.63,286.29 39.98,286.36 40.34,286.50 40.70,286.34 41.05,286.43 41.41,286.36 41.76,286.38 42.12,286.35 42.48,286.35 42.83,286.42 43.19,286.29 43.54,286.28 43.90,286.39 44.26,286.37 44.61,286.31 44.97,286.61 45.32,286.25 45.68,286.38 46.04,286.27 46.39,286.23 46.75,286.28 47.10,286.31 47.46,286.22 47.82,286.17 48.17,286.26 48.53,286.15 48.88,286.26 49.24,286.13 49.60,286.27 49.95,286.12 50.31,286.21 50.66,285.66 51.02,286.17 51.38,286.09 51.73,286.08 52.09,286.45 52.44,286.09 52.80,286.10 53.15,286.02 53.51,286.31 53.86,285.65 54.22,285.13 54.57,285.42 54.93,285.71 55.28,285.05 55.64,285.08 55.99,284.89 56.35,285.15 56.70,284.60 57.08,282.26 57.45,279.72 57.83,274.63 58.20,274.50 58.60,275.05 59.00,275.57 59.40,277.16 59.80,277.60 60.18,276.46 60.57,274.91 60.95,273.85 61.33,272.61 61.72,270.72 62.10,269.80 62.50,270.53 62.90,270.59 63.30,270.45 63.70,271.40 64.08,269.18 64.47,268.30 64.85,265.47 65.23,264.18 65.62,262.33 66.00,260.50 66.38,260.12 66.75,258.84 67.12,257.83 67.50,257.40 67.90,256.90 68.30,256.20 68.70,254.17 69.10,255.90 69.50,251.79 69.90,253.76 70.30,251.91 70.70,251.20 71.20,245.68 71.70,240.40 72.13,239.40 72.57,237.82 73.00,235.70 73.38,234.12 73.75,232.83 74.12,231.81 74.50,231.00 74.88,228.64 75.26,225.34 75.64,223.54 76.02,220.42 76.40,217.90 76.80,221.05 77.20,223.90 77.60,226.40 78.00,226.22 78.40,225.61 78.80,225.43 79.20,224.31 79.60,224.18 80.00,223.30 80.38,224.14 80.77,224.58 81.15,224.75 81.53,225.48 81.92,229.35 82.30,227.20 82.68,223.69 83.07,221.29 83.45,219.76 83.83,221.09 84.22,220.38 84.60,218.60 85.00,217.72 85.40,217.20 85.80,219.59 86.20,217.55 86.60,214.26 87.00,214.00 87.38,211.32 87.75,209.06 88.12,210.46 88.50,209.30 88.92,209.00 89.34,207.82 89.76,205.86 90.18,207.22 90.60,206.60 91.10,207.61 91.60,207.80 91.95,207.24 92.30,206.36 92.65,207.85 93.00,206.22 93.35,203.71 93.70,205.00 94.20,209.63 94.70,209.30 95.13,208.29 95.57,204.34 96.00,201.90 96.38,201.57 96.77,200.52 97.15,200.01 97.53,199.05 97.92,198.53 98.30,198.00 98.67,198.39 99.03,199.90 99.40,200.00 99.80,198.87 100.20,196.82 100.60,195.66 101.00,196.69 101.40,192.60 101.80,191.19 102.20,188.31 102.60,189.21 103.00,187.59 103.40,186.59 103.80,184.80 104.18,184.56 104.57,184.27 104.95,183.87 105.33,183.47 105.72,180.33 106.10,182.50 106.47,181.88 106.85,177.17 107.22,176.96 107.60,175.50 107.95,174.31 108.30,173.22 108.65,174.92 109.00,171.10 109.42,172.71 109.85,173.46 110.28,176.60 110.70,176.00 111.12,173.93 111.54,172.22 111.96,171.46 112.38,167.75 112.80,165.10 113.19,166.13 113.57,163.58 113.96,163.58 114.34,163.53 114.73,165.72 115.11,163.64 115.50,162.90 115.87,163.03 116.23,164.42 116.60,165.32 116.97,165.99 117.33,168.00 117.70,166.70 118.10,167.67 118.50,168.12 118.90,169.72 119.30,170.00 119.72,165.93 120.15,162.14 120.58,155.47 121.00,153.20 121.50,152.50 121.87,154.87 122.23,156.80 122.60,159.10 123.00,164.07 123.40,168.69 123.80,175.28 124.20,177.60 124.62,180.77 125.05,183.28 125.48,186.32 125.90,188.70 126.32,192.39 126.74,197.01 127.16,200.68 127.58,204.86 128.00,208.30 128.36,210.01 128.72,215.25 129.08,219.66 129.44,224.25 129.80,226.70 130.18,228.65 130.55,229.51 130.93,230.82 131.30,232.20 131.68,234.51 132.06,236.58 132.44,239.25 132.82,238.92 133.20,243.50 133.60,245.45 134.00,248.40 134.40,250.40 134.82,246.72 135.25,248.18 135.68,248.03 136.10,246.60 136.50,248.93 136.90,251.20 137.26,250.45 137.62,252.61 137.98,252.85 138.34,253.62 138.70,253.80 139.12,253.27 139.55,253.34 139.97,252.97 140.40,252.90 140.82,253.34 141.25,253.97 141.68,253.61 142.10,255.50 142.45,255.79 142.81,255.74 143.16,255.95 143.52,256.14 143.87,256.18 144.22,254.71 144.58,255.22 144.93,256.52 145.29,256.66 145.64,256.32 146.00,255.89 146.35,256.78 146.70,257.08 147.06,256.90 147.41,256.89 147.77,257.41 148.12,257.04 148.47,257.30 148.83,257.68 149.18,257.36 149.54,257.79 149.89,257.28 150.25,258.39 150.60,258.00 150.96,258.23 151.33,258.17 151.69,257.63 152.06,258.71 152.42,259.14 152.79,259.10 153.15,258.89 153.51,259.55 153.88,259.80 154.24,260.09 154.61,259.12 154.97,260.15 155.34,260.40 155.70,260.60 156.06,260.69 156.42,260.92 156.77,260.72 157.13,260.67 157.49,261.84 157.85,260.87 158.21,262.29 158.56,262.53 158.92,263.10 159.28,263.27 159.64,263.43 159.99,263.75 160.35,264.34 160.71,264.16 161.07,266.11 161.43,264.72 161.78,265.13 162.14,265.44 162.50,265.70 162.86,265.95 163.22,265.81 163.57,265.80 163.93,265.10 164.29,266.67 164.65,266.14 165.01,266.46 165.37,266.42 165.72,266.78 166.08,266.82 166.44,266.67 166.80,266.95 167.16,266.89 167.52,267.13 167.88,267.51 168.23,267.19 168.59,267.53 168.95,267.00 169.31,267.86 169.67,268.05 170.03,268.19 170.38,267.87 170.74,268.06 171.10,268.30 171.45,268.59 171.80,268.66 172.16,268.76 172.51,268.45 172.86,269.31 173.21,269.33 173.56,268.70 173.91,267.91 174.27,269.20 174.62,269.33 174.97,269.23 175.32,269.31 175.67,268.62 176.02,269.50 176.38,268.28 176.73,269.70 177.08,269.63 177.43,269.83 177.78,270.97 178.13,269.98 178.49,270.12 178.84,270.42 179.19,270.20 179.54,270.29 179.89,270.70 180.24,270.75 180.60,271.42 180.95,270.80 181.30,270.80 181.66,271.15 182.02,270.33 182.38,271.26 182.75,270.10 183.11,271.85 183.47,271.95 183.83,273.15 184.19,272.33 184.55,272.35 184.92,271.31 185.28,272.59 185.64,272.68 186.00,274.29 186.36,273.33 186.72,273.07 187.08,273.66 187.45,273.62 187.81,273.98 188.17,273.83 188.53,274.23 188.89,274.25 189.25,274.30 189.62,274.63 189.98,274.97 190.34,274.92 190.70,275.10 191.12,274.44 191.55,274.09 191.97,274.06 192.40,273.40 192.77,273.10 193.14,273.80 193.51,274.32 193.89,274.70 194.26,274.80 194.63,274.64 195.00,275.10 195.36,275.11 195.73,274.98 196.09,275.44 196.46,275.07 196.82,275.20 197.19,275.37 197.55,275.51 197.91,275.51 198.28,275.55 198.64,275.60 199.01,275.20 199.37,275.66 199.74,275.56 200.10,275.60 200.46,275.69 200.81,275.86 201.17,275.83 201.53,275.80 201.89,276.00 202.24,275.89 202.60,276.00 202.96,275.82 203.32,275.90 203.68,275.64 204.04,275.36 204.40,275.40" fill="none" stroke="#262a86" stroke-width="1.1" stroke-linejoin="round"/>
<path d="M155.6,210.6 L163.6,210.6" stroke="#262a86" stroke-width="1.1"/>
<path d="M155.6,228.4 L163.6,228.4" stroke="#e98a2c" stroke-width="1.1"/>
<text x="166.40" y="212.70" font-size="8.9" fill="#333" text-anchor="start" font-weight="normal" textLength="41.5" lengthAdjust="spacingAndGlyphs" >Micro-lace</text>
<text x="166.40" y="221.90" font-size="8.9" fill="#333" text-anchor="start" font-weight="normal" textLength="46.9" lengthAdjust="spacingAndGlyphs" >(permeable)</text>
<text x="166.40" y="231.10" font-size="8.9" fill="#333" text-anchor="start" font-weight="normal" textLength="42.5" lengthAdjust="spacingAndGlyphs" >Metal plate</text>
<text x="166.40" y="240.50" font-size="8.9" fill="#333" text-anchor="start" font-weight="normal" textLength="64.8" lengthAdjust="spacingAndGlyphs" >(non-permeable)</text>
<text x="312.10" y="10.50" font-size="13.3" fill="#111" text-anchor="start" font-weight="bold" stroke="#111" stroke-width="0.35">d</text>
<rect x="351.60" y="12.4" width="57.4" height="5.5" fill="#f4c5c7"/>
<text x="381.50" y="8.20" font-size="8.9" fill="#333" text-anchor="middle" font-weight="normal" textLength="31.5" lengthAdjust="spacingAndGlyphs" >Walking</text>
<rect x="417.20" y="12.4" width="57.4" height="5.5" fill="#d2d3d5"/>
<text x="445.70" y="8.20" font-size="8.9" fill="#333" text-anchor="middle" font-weight="normal" textLength="25.3" lengthAdjust="spacingAndGlyphs" >Sitting</text>
<rect x="482.80" y="12.4" width="57.4" height="5.5" fill="#f6f3b8"/>
<text x="511.50" y="8.20" font-size="8.9" fill="#333" text-anchor="middle" font-weight="normal" textLength="31.3" lengthAdjust="spacingAndGlyphs" >Meeting</text>
<rect x="548.40" y="12.4" width="57.4" height="5.5" fill="#d5e6d8"/>
<text x="577.00" y="8.20" font-size="8.9" fill="#333" text-anchor="middle" font-weight="normal" textLength="23.9" lengthAdjust="spacingAndGlyphs" >Eating</text>
<rect x="614.00" y="12.4" width="57.4" height="5.5" fill="#cddff0"/>
<text x="643.30" y="8.20" font-size="8.9" fill="#333" text-anchor="middle" font-weight="normal" textLength="27.7" lengthAdjust="spacingAndGlyphs" >Talking</text>
<rect x="349" y="20.7" width="14.00" height="281.50" fill="#f9dcdd"/>
<rect x="363" y="20.7" width="29.50" height="281.50" fill="#f4f5f7"/>
<rect x="392.5" y="20.7" width="29.20" height="281.50" fill="#f8f2cd"/>
<rect x="421.7" y="20.7" width="25.10" height="281.50" fill="#f9dcdd"/>
<rect x="446.8" y="20.7" width="18.80" height="281.50" fill="#e0eedb"/>
<rect x="465.6" y="20.7" width="6.30" height="281.50" fill="#f9dcdd"/>
<rect x="471.9" y="20.7" width="90.10" height="281.50" fill="#f4f5f7"/>
<rect x="562" y="20.7" width="54.00" height="281.50" fill="#dbe6f4"/>
<rect x="616" y="20.7" width="14.50" height="281.50" fill="#f9dcdd"/>
<rect x="630.5" y="20.7" width="10.00" height="281.50" fill="#e0eedb"/>
<rect x="640.5" y="20.7" width="28.70" height="281.50" fill="#f4f5f7"/>
<path d="M334.5,20.7 L683.5,20.7 L683.5,304.5" stroke="#999" stroke-width="0.9" fill="none"/>
<path d="M334.5,20.7 L334.5,304.5 L683.5,304.5" stroke="#888" stroke-width="0.9" fill="none"/>
<path d="M334.5,77.8 L683.5,77.8" stroke="#b4b4b4" stroke-width="0.8"/>
<path d="M334.5,134.0 L683.5,134.0" stroke="#b4b4b4" stroke-width="0.8"/>
<path d="M334.5,190.4 L683.5,190.4" stroke="#b4b4b4" stroke-width="0.8"/>
<path d="M334.5,248.1 L683.5,248.1" stroke="#b4b4b4" stroke-width="0.8"/>
<path d="M349.00,75.20 L349.00,80.40 M349.00,131.40 L349.00,136.60 M349.00,187.80 L349.00,193.00 M349.00,245.50 L349.00,250.70 M349.00,304.50 L349.00,307.50 M363.57,76.40 L363.57,79.20 M363.57,132.60 L363.57,135.40 M363.57,189.00 L363.57,191.80 M363.57,246.70 L363.57,249.50 M378.14,75.20 L378.14,80.40 M378.14,131.40 L378.14,136.60 M378.14,187.80 L378.14,193.00 M378.14,245.50 L378.14,250.70 M378.14,304.50 L378.14,307.50 M392.71,76.40 L392.71,79.20 M392.71,132.60 L392.71,135.40 M392.71,189.00 L392.71,191.80 M392.71,246.70 L392.71,249.50 M407.28,75.20 L407.28,80.40 M407.28,131.40 L407.28,136.60 M407.28,187.80 L407.28,193.00 M407.28,245.50 L407.28,250.70 M407.28,304.50 L407.28,307.50 M421.85,76.40 L421.85,79.20 M421.85,132.60 L421.85,135.40 M421.85,189.00 L421.85,191.80 M421.85,246.70 L421.85,249.50 M436.42,75.20 L436.42,80.40 M436.42,131.40 L436.42,136.60 M436.42,187.80 L436.42,193.00 M436.42,245.50 L436.42,250.70 M436.42,304.50 L436.42,307.50 M450.99,76.40 L450.99,79.20 M450.99,132.60 L450.99,135.40 M450.99,189.00 L450.99,191.80 M450.99,246.70 L450.99,249.50 M465.56,75.20 L465.56,80.40 M465.56,131.40 L465.56,136.60 M465.56,187.80 L465.56,193.00 M465.56,245.50 L465.56,250.70 M465.56,304.50 L465.56,307.50 M480.13,76.40 L480.13,79.20 M480.13,132.60 L480.13,135.40 M480.13,189.00 L480.13,191.80 M480.13,246.70 L480.13,249.50 M494.70,75.20 L494.70,80.40 M494.70,131.40 L494.70,136.60 M494.70,187.80 L494.70,193.00 M494.70,245.50 L494.70,250.70 M494.70,304.50 L494.70,307.50 M509.27,76.40 L509.27,79.20 M509.27,132.60 L509.27,135.40 M509.27,189.00 L509.27,191.80 M509.27,246.70 L509.27,249.50 M523.84,75.20 L523.84,80.40 M523.84,131.40 L523.84,136.60 M523.84,187.80 L523.84,193.00 M523.84,245.50 L523.84,250.70 M523.84,304.50 L523.84,307.50 M538.41,76.40 L538.41,79.20 M538.41,132.60 L538.41,135.40 M538.41,189.00 L538.41,191.80 M538.41,246.70 L538.41,249.50 M552.98,75.20 L552.98,80.40 M552.98,131.40 L552.98,136.60 M552.98,187.80 L552.98,193.00 M552.98,245.50 L552.98,250.70 M552.98,304.50 L552.98,307.50 M567.55,76.40 L567.55,79.20 M567.55,132.60 L567.55,135.40 M567.55,189.00 L567.55,191.80 M567.55,246.70 L567.55,249.50 M582.12,75.20 L582.12,80.40 M582.12,131.40 L582.12,136.60 M582.12,187.80 L582.12,193.00 M582.12,245.50 L582.12,250.70 M582.12,304.50 L582.12,307.50 M596.69,76.40 L596.69,79.20 M596.69,132.60 L596.69,135.40 M596.69,189.00 L596.69,191.80 M596.69,246.70 L596.69,249.50 M611.26,75.20 L611.26,80.40 M611.26,131.40 L611.26,136.60 M611.26,187.80 L611.26,193.00 M611.26,245.50 L611.26,250.70 M611.26,304.50 L611.26,307.50 M625.83,76.40 L625.83,79.20 M625.83,132.60 L625.83,135.40 M625.83,189.00 L625.83,191.80 M625.83,246.70 L625.83,249.50 M640.40,75.20 L640.40,80.40 M640.40,131.40 L640.40,136.60 M640.40,187.80 L640.40,193.00 M640.40,245.50 L640.40,250.70 M640.40,304.50 L640.40,307.50 M654.97,76.40 L654.97,79.20 M654.97,132.60 L654.97,135.40 M654.97,189.00 L654.97,191.80 M654.97,246.70 L654.97,249.50 M669.54,75.20 L669.54,80.40 M669.54,131.40 L669.54,136.60 M669.54,187.80 L669.54,193.00 M669.54,245.50 L669.54,250.70 M669.54,304.50 L669.54,307.50" stroke="#888" stroke-width="0.7"/>
<text x="349.00" y="313.80" font-size="6.8" fill="#444" text-anchor="middle" font-weight="normal" >0</text>
<text x="378.14" y="313.80" font-size="6.8" fill="#444" text-anchor="middle" font-weight="normal" >1</text>
<text x="407.28" y="313.80" font-size="6.8" fill="#444" text-anchor="middle" font-weight="normal" >2</text>
<text x="436.42" y="313.80" font-size="6.8" fill="#444" text-anchor="middle" font-weight="normal" >3</text>
<text x="465.56" y="313.80" font-size="6.8" fill="#444" text-anchor="middle" font-weight="normal" >4</text>
<text x="494.70" y="313.80" font-size="6.8" fill="#444" text-anchor="middle" font-weight="normal" >5</text>
<text x="523.84" y="313.80" font-size="6.8" fill="#444" text-anchor="middle" font-weight="normal" >6</text>
<text x="552.98" y="313.80" font-size="6.8" fill="#444" text-anchor="middle" font-weight="normal" >7</text>
<text x="582.12" y="313.80" font-size="6.8" fill="#444" text-anchor="middle" font-weight="normal" >8</text>
<text x="611.26" y="313.80" font-size="6.8" fill="#444" text-anchor="middle" font-weight="normal" >9</text>
<text x="640.40" y="313.80" font-size="6.8" fill="#444" text-anchor="middle" font-weight="normal" >10</text>
<text x="669.54" y="313.80" font-size="6.8" fill="#444" text-anchor="middle" font-weight="normal" >11</text>
<text x="509.90" y="321.00" font-size="6.5" fill="#333" text-anchor="middle" font-weight="normal" textLength="22" lengthAdjust="spacingAndGlyphs" >Time (h)</text>
<path d="M345.4,77.8 L345.4,30 L350,30 L350,77.8 Z M350,77.8 L350,37.9 L354.7,37.9 L354.7,77.8 Z M354.7,77.8 L354.7,69.9 L359.9,69.9 L359.9,77.8 Z M359.9,77.8 L359.9,74.1 L364.7,74.1 L364.7,77.8 Z M384.9,77.8 L384.9,73.2 L389.7,73.2 L389.7,77.8 Z M414.2,77.8 L414.2,69.7 L419.2,69.7 L419.2,77.8 Z M426.3,77.8 L426.3,56.4 L431.2,56.4 L431.2,77.8 Z M431.2,77.8 L431.2,73.2 L436,73.2 L436,77.8 Z M439,77.8 L439,47 L444,47 L444,77.8 Z M444,77.8 L444,73.2 L448.8,73.2 L448.8,77.8 Z M464.1,77.8 L464.1,55.8 L468.9,55.8 L468.9,77.8 Z M468.9,77.8 L468.9,71.6 L470.8,71.6 L470.8,77.8 Z M476,77.8 L476,73 L481.8,73 L481.8,77.8 Z M499.2,77.8 L499.2,68.2 L504,68.2 L504,77.8 Z M524.2,77.8 L524.2,76.1 L529,76.1 L529,77.8 Z M529,77.8 L529,73.6 L536,73.6 L536,77.8 Z M547,77.8 L547,72.2 L552.1,72.2 L552.1,77.8 Z M552.1,77.8 L552.1,76.1 L559.5,76.1 L559.5,77.8 Z M582,77.8 L582,76.5 L586.8,76.5 L586.8,77.8 Z M586.8,77.8 L586.8,74.1 L592.6,74.1 L592.6,77.8 Z M592.6,77.8 L592.6,76.1 L597.4,76.1 L597.4,77.8 Z M604.1,77.8 L604.1,76.1 L609,76.1 L609,77.8 Z M610.9,77.8 L610.9,72 L613.2,72 L613.2,77.8 Z M613.2,77.8 L613.2,58 L616.3,58 L616.3,77.8 Z M616.3,77.8 L616.3,37 L618.2,37 L618.2,77.8 Z M618.2,77.8 L618.2,28.1 L622.8,28.1 L622.8,77.8 Z M622.8,77.8 L622.8,30.6 L627.8,30.6 L627.8,77.8 Z M627.8,77.8 L627.8,46 L630.1,46 L630.1,77.8 Z M630.1,77.8 L630.1,68.2 L633,68.2 L633,77.8 Z M634,77.8 L634,76.1 L639.2,76.1 L639.2,77.8 Z M337,77.8 L339.3,73.3 L342.9,73.3 L342.9,77.8 Z" fill="#7e807f" stroke="#7e807f" stroke-width="0.15"/>
<g stroke="#888" stroke-width="0.7">
<path d="M331.5,77.60 L334.5,77.60"/>
<path d="M331.5,55.20 L334.5,55.20"/>
<path d="M331.5,32.80 L334.5,32.80"/>
<path d="M332.9,66.40 L334.5,66.40"/>
<path d="M332.9,44.00 L334.5,44.00"/>
<path d="M332.9,21.60 L334.5,21.60"/>
</g>
<text x="330.00" y="79.80" font-size="6.2" fill="#444" text-anchor="end" font-weight="normal" >0</text>
<text x="330.00" y="57.40" font-size="6.2" fill="#444" text-anchor="end" font-weight="normal" >500</text>
<text x="330.00" y="35.00" font-size="6.2" fill="#444" text-anchor="end" font-weight="normal" >1,000</text>
<text x="310.00" y="50.30" font-size="6.1" fill="#333" text-anchor="middle" font-weight="normal" transform="rotate(-90 310.00 50.30)" >Step count (steps)</text>
<g stroke="#888" stroke-width="0.7">
<path d="M331.5,127.00 L334.5,127.00"/>
<path d="M331.5,112.85 L334.5,112.85"/>
<path d="M331.5,98.70 L334.5,98.70"/>
<path d="M331.5,84.55 L334.5,84.55"/>
<path d="M332.9,119.92 L334.5,119.92"/>
<path d="M332.9,105.78 L334.5,105.78"/>
<path d="M332.9,91.62 L334.5,91.62"/>
</g>
<text x="330.00" y="129.20" font-size="6.2" fill="#444" text-anchor="end" font-weight="normal" >0</text>
<text x="330.00" y="115.05" font-size="6.2" fill="#444" text-anchor="end" font-weight="normal" >1</text>
<text x="330.00" y="100.90" font-size="6.2" fill="#444" text-anchor="end" font-weight="normal" >2</text>
<text x="330.00" y="86.75" font-size="6.2" fill="#444" text-anchor="end" font-weight="normal" >3</text>
<text x="310.20" y="105.80" font-size="6.1" fill="#333" text-anchor="middle" font-weight="normal" transform="rotate(-90 310.20 105.80)" >Sweating score</text>
<circle cx="348.6" cy="127.00" r="1.55" fill="#6a6a6a"/>
<circle cx="355.5" cy="84.55" r="1.55" fill="#6a6a6a"/>
<circle cx="372.6" cy="127.00" r="1.55" fill="#6a6a6a"/>
<circle cx="397.3" cy="127.00" r="1.55" fill="#6a6a6a"/>
<circle cx="421.6" cy="127.00" r="1.55" fill="#6a6a6a"/>
<circle cx="446.6" cy="98.70" r="1.55" fill="#6a6a6a"/>
<circle cx="471.8" cy="112.85" r="1.55" fill="#6a6a6a"/>
<circle cx="494.4" cy="127.00" r="1.55" fill="#6a6a6a"/>
<circle cx="518.9" cy="127.00" r="1.55" fill="#6a6a6a"/>
<circle cx="543" cy="127.00" r="1.55" fill="#6a6a6a"/>
<circle cx="567.3" cy="127.00" r="1.55" fill="#6a6a6a"/>
<circle cx="591.6" cy="127.00" r="1.55" fill="#6a6a6a"/>
<circle cx="615.9" cy="112.85" r="1.55" fill="#6a6a6a"/>
<circle cx="625" cy="98.70" r="1.55" fill="#6a6a6a"/>
<circle cx="630.6" cy="84.55" r="1.55" fill="#6a6a6a"/>
<circle cx="649.5" cy="127.00" r="1.55" fill="#6a6a6a"/>
<circle cx="664.3" cy="127.00" r="1.55" fill="#6a6a6a"/>
<g stroke="#888" stroke-width="0.7">
<path d="M331.5,185.60 L334.5,185.60"/>
<path d="M331.5,170.10 L334.5,170.10"/>
<path d="M331.5,154.60 L334.5,154.60"/>
<path d="M331.5,139.10 L334.5,139.10"/>
<path d="M332.9,177.85 L334.5,177.85"/>
<path d="M332.9,162.35 L334.5,162.35"/>
<path d="M332.9,146.85 L334.5,146.85"/>
</g>
<text x="330.00" y="187.80" font-size="6.2" fill="#444" text-anchor="end" font-weight="normal" >0</text>
<text x="330.00" y="172.30" font-size="6.2" fill="#444" text-anchor="end" font-weight="normal" >0.3</text>
<text x="330.00" y="156.80" font-size="6.2" fill="#444" text-anchor="end" font-weight="normal" >0.6</text>
<text x="330.00" y="141.30" font-size="6.2" fill="#444" text-anchor="end" font-weight="normal" >0.9</text>
<text x="307.00" y="161.80" font-size="6.1" fill="#333" text-anchor="middle" font-weight="normal" transform="rotate(-90 307.00 161.80)" >Forearm skin</text>
<text x="313.80" y="161.80" font-size="6.1" fill="#333" text-anchor="middle" font-weight="normal" transform="rotate(-90 313.80 161.80)" >conductance (μS)</text>
<polyline points="348.70,185.40 351.80,185.40 352.60,181.00 353.20,175.00 353.60,172.00 354.00,174.00 354.40,169.90 354.80,171.00 354.80,167.43 355.13,169.45 355.46,163.46 355.79,169.01 356.12,157.77 356.45,165.76 356.78,150.05 357.11,162.73 357.44,148.02 357.77,165.41 358.10,148.59 358.43,164.07 358.76,151.23 359.09,165.70 359.42,149.63 359.75,162.80 360.08,148.65 360.41,160.40 360.74,148.18 361.07,158.08 361.40,147.07 361.73,159.37 362.00,157.10 362.60,163.00 363.00,161.00 363.70,169.10 364.10,167.00 364.60,173.00 365.00,171.00 365.40,177.60 366.20,180.00 366.60,179.00 367.10,185.40 428.70,185.40 429.00,176.30 429.30,185.40 443.80,185.40 444.70,179.60 445.10,183.00 445.60,176.80 446.00,181.00 446.60,175.40 447.00,178.00 447.30,167.50 447.60,175.00 448.00,174.00 448.90,178.60 450.30,185.40 467.20,185.40 467.50,183.30 467.80,185.40 470.20,185.40 470.80,178.20 471.20,182.00 471.70,182.40 472.70,185.40 538.00,185.40 538.30,184.40 538.80,185.40 564.40,185.40 564.70,182.60 565.00,185.40 582.50,185.40 583.00,182.60 583.50,185.40 590.00,185.40 590.40,173.90 590.80,185.40 599.50,185.40 599.90,184.10 601.30,185.40 604.10,182.70 605.90,177.40 606.90,183.40 608.30,182.00 609.70,184.10 611.10,182.00 612.50,175.70 613.20,182.00 614.60,181.30 616.00,183.40 617.30,179.90 617.60,176.00 618.20,183.00 619.00,179.00 619.60,172.00 620.30,181.00 621.00,178.00 622.00,176.70 622.60,183.00 623.20,172.00 623.80,180.00 624.40,168.00 625.00,178.00 625.50,155.20 625.90,172.00 626.40,166.00 626.90,165.00 627.40,175.00 628.00,170.00 628.60,180.00 629.00,179.00 629.60,170.00 630.20,165.00 630.60,160.40 631.00,168.00 631.40,158.00 631.80,163.00 632.20,152.00 632.60,158.00 633.00,151.50 633.40,160.00 633.80,155.00 634.30,156.90 634.80,165.00 635.30,162.00 636.00,168.60 636.50,175.00 637.10,177.90 637.60,174.00 638.30,172.00 638.90,178.00 639.50,180.20 640.20,184.00 641.10,185.40 669.90,185.40" fill="none" stroke="#232877" stroke-width="0.8" stroke-linejoin="round"/>
<g stroke="#888" stroke-width="0.7">
<path d="M331.5,244.05 L334.5,244.05"/>
<path d="M331.5,236.10 L334.5,236.10"/>
<path d="M331.5,228.15 L334.5,228.15"/>
<path d="M331.5,220.20 L334.5,220.20"/>
<path d="M331.5,212.25 L334.5,212.25"/>
<path d="M331.5,204.30 L334.5,204.30"/>
<path d="M331.5,196.35 L334.5,196.35"/>
<path d="M332.9,240.07 L334.5,240.07"/>
<path d="M332.9,232.12 L334.5,232.12"/>
<path d="M332.9,224.17 L334.5,224.17"/>
<path d="M332.9,216.22 L334.5,216.22"/>
<path d="M332.9,208.28 L334.5,208.28"/>
<path d="M332.9,200.32 L334.5,200.32"/>
</g>
<text x="330.60" y="246.25" font-size="6.2" fill="#444" text-anchor="end" font-weight="normal" >−1</text>
<text x="330.60" y="238.30" font-size="6.2" fill="#444" text-anchor="end" font-weight="normal" >0</text>
<text x="330.60" y="230.35" font-size="6.2" fill="#444" text-anchor="end" font-weight="normal" >1</text>
<text x="330.60" y="222.40" font-size="6.2" fill="#444" text-anchor="end" font-weight="normal" >2</text>
<text x="330.60" y="214.45" font-size="6.2" fill="#444" text-anchor="end" font-weight="normal" >3</text>
<text x="330.60" y="206.50" font-size="6.2" fill="#444" text-anchor="end" font-weight="normal" >4</text>
<text x="330.60" y="198.55" font-size="6.2" fill="#444" text-anchor="end" font-weight="normal" >5</text>
<text x="303.30" y="220.40" font-size="6.1" fill="#333" text-anchor="middle" font-weight="normal" transform="rotate(-90 303.30 220.40)" >Finger skin</text>
<text x="310.50" y="220.40" font-size="6.1" fill="#333" text-anchor="middle" font-weight="normal" transform="rotate(-90 310.50 220.40)" >conductance (μS)</text>
<text x="317.70" y="220.40" font-size="6.1" fill="#333" text-anchor="middle" font-weight="normal" transform="rotate(-90 317.70 220.40)" >(tonic EDA)</text>
<polyline points="348.80,242.90 349.11,242.96 349.42,242.82 349.73,242.81 350.04,242.93 350.35,242.69 350.66,242.80 350.98,242.85 351.29,243.00 351.60,242.78 351.91,242.99 352.22,242.79 352.53,242.64 352.84,242.95 353.15,241.91 353.46,242.87 353.77,242.88 354.08,242.58 354.39,242.71 354.70,243.33 355.01,242.53 355.32,242.73 355.64,242.14 355.95,242.08 356.26,241.96 356.57,242.63 356.88,242.53 357.19,242.62 357.50,242.60 357.80,242.61 358.11,242.88 358.41,243.09 358.71,242.50 359.02,242.62 359.32,242.55 359.62,242.31 359.93,242.81 360.23,242.58 360.53,242.33 360.84,241.55 361.14,242.54 361.44,242.38 361.75,242.13 362.05,242.43 362.36,242.43 362.66,242.17 362.96,242.41 363.27,242.39 363.57,242.14 363.87,242.05 364.18,242.29 364.48,242.24 364.78,241.97 365.09,241.96 365.39,241.98 365.69,241.89 366.00,241.97 366.30,242.00 366.61,241.07 366.92,241.95 367.23,241.94 367.54,241.36 367.85,242.79 368.16,241.85 368.48,242.13 368.79,241.86 369.10,242.09 369.41,241.46 369.72,241.89 370.03,241.85 370.34,241.90 370.65,242.04 370.96,241.90 371.27,241.89 371.58,241.85 371.89,242.02 372.20,242.11 372.51,242.06 372.82,241.92 373.14,241.23 373.45,243.05 373.76,242.12 374.07,241.88 374.38,241.84 374.69,242.13 375.00,242.00 375.31,241.90 375.62,241.89 375.94,241.91 376.25,241.15 376.56,241.83 376.87,241.68 377.18,241.75 377.49,241.76 377.81,241.05 378.12,242.00 378.43,240.41 378.74,241.30 379.05,241.41 379.36,241.52 379.68,241.19 379.99,241.26 380.30,241.20 380.60,241.24 380.91,241.91 381.21,240.94 381.52,240.30 381.82,240.88 382.13,241.15 382.43,241.18 382.73,241.09 383.04,241.01 383.34,240.95 383.65,241.09 383.95,240.82 384.26,240.94 384.56,240.89 384.87,241.61 385.17,240.53 385.47,240.84 385.78,240.63 386.08,240.89 386.39,240.70 386.69,240.48 387.00,240.10 387.30,240.60 387.61,240.60 387.91,240.45 388.22,240.19 388.52,240.17 388.83,240.82 389.14,240.20 389.44,240.23 389.75,240.64 390.05,240.16 390.36,240.44 390.66,238.79 390.97,238.99 391.28,239.53 391.58,239.60 391.89,238.71 392.19,239.66 392.50,239.40 392.81,239.55 393.12,239.60 393.44,239.62 393.75,239.61 394.06,239.59 394.37,239.55 394.68,239.82 394.99,239.90 395.31,239.71 395.62,239.74 395.93,239.84 396.24,240.50 396.55,240.48 396.86,239.74 397.18,240.00 397.49,240.13 397.80,240.30 398.12,239.76 398.44,239.14 398.75,239.44 399.07,240.73 399.39,238.80 399.71,235.65 400.03,237.16 400.35,238.55 400.66,236.34 400.98,236.20 401.30,235.90 401.61,236.04 401.91,235.21 402.22,234.81 402.52,235.41 402.83,232.69 403.14,234.59 403.44,234.40 403.75,234.58 404.05,233.71 404.36,233.78 404.66,231.62 404.97,233.45 405.28,233.26 405.58,232.67 405.89,230.76 406.19,232.44 406.50,232.40 406.81,232.17 407.12,231.67 407.44,231.14 407.75,231.23 408.06,231.25 408.38,230.84 408.69,229.95 409.00,230.00 409.31,229.59 409.62,228.94 409.94,228.55 410.25,227.88 410.56,227.39 410.88,226.95 411.19,228.31 411.50,226.30 411.80,227.29 412.10,228.03 412.40,228.91 412.70,228.30 413.00,233.48 413.30,232.51 413.60,233.30 413.93,232.25 414.25,233.82 414.57,230.98 414.90,230.71 415.23,229.62 415.55,228.88 415.88,231.06 416.20,228.00 416.54,228.22 416.88,232.27 417.22,234.19 417.56,236.18 417.90,237.70 418.22,237.76 418.54,238.32 418.85,239.05 419.17,238.89 419.49,239.89 419.81,241.83 420.13,240.29 420.45,242.32 420.76,241.07 421.08,241.13 421.40,242.00 421.71,241.82 422.03,240.45 422.34,241.69 422.66,241.70 422.97,241.04 423.29,241.31 423.60,241.46 423.91,240.54 424.23,240.56 424.54,241.16 424.86,242.29 425.17,240.44 425.49,240.08 425.80,240.30 426.10,239.76 426.40,237.70 426.70,239.88 427.00,238.24 427.30,238.10 427.60,237.70 427.91,237.98 428.22,237.99 428.53,236.30 428.84,239.37 429.15,238.44 429.45,240.05 429.76,240.51 430.07,241.28 430.38,240.75 430.69,241.88 431.00,242.00 431.31,242.17 431.62,241.93 431.94,241.48 432.25,241.97 432.56,241.68 432.87,241.66 433.18,241.31 433.49,241.05 433.81,238.93 434.12,241.38 434.43,240.90 434.74,241.11 435.05,242.08 435.36,240.55 435.68,239.07 435.99,240.62 436.30,240.30 436.61,240.11 436.92,238.31 437.24,240.67 437.55,239.23 437.86,239.20 438.17,239.17 438.48,236.43 438.79,238.49 439.11,236.07 439.42,237.41 439.73,237.82 440.04,236.89 440.35,237.40 440.66,236.26 440.98,236.79 441.29,237.82 441.60,235.90 441.92,235.73 442.24,236.06 442.55,235.57 442.87,237.35 443.19,237.05 443.51,237.35 443.83,237.96 444.15,238.54 444.46,236.82 444.78,241.71 445.10,239.40 445.43,238.81 445.75,239.69 446.07,239.96 446.40,240.62 446.73,241.11 447.05,241.51 447.38,241.51 447.70,242.00 448.01,241.85 448.33,242.45 448.64,242.09 448.96,242.85 449.27,242.24 449.59,241.11 449.90,242.25 450.21,244.58 450.53,241.09 450.84,242.55 451.16,242.73 451.47,242.87 451.79,243.44 452.10,243.30 452.41,243.64 452.73,243.52 453.04,243.07 453.36,243.13 453.67,242.87 453.99,243.53 454.30,242.81 454.61,242.60 454.93,242.56 455.24,243.43 455.56,242.84 455.87,242.83 456.19,242.80 456.50,242.90 456.82,241.57 457.13,242.30 457.45,241.80 457.77,241.98 458.08,244.33 458.40,241.28 458.72,241.30 459.03,240.40 459.35,238.83 459.67,240.42 459.98,239.92 460.30,239.70 460.65,239.76 461.00,236.18 461.35,233.68 461.70,232.10 462.00,233.29 462.30,231.81 462.60,234.00 462.90,234.75 463.20,235.56 463.50,236.21 463.80,237.00 464.14,236.83 464.48,236.16 464.82,238.17 465.16,235.18 465.50,235.30 465.80,235.66 466.10,235.07 466.40,236.81 466.70,238.30 467.00,237.97 467.30,239.10 467.61,239.34 467.91,239.55 468.22,239.73 468.53,237.99 468.84,240.57 469.14,239.87 469.45,240.02 469.76,239.51 470.06,240.96 470.37,240.61 470.68,241.45 470.99,241.55 471.29,242.18 471.60,241.90 471.94,241.73 472.28,240.94 472.61,241.21 472.95,240.24 473.29,239.61 473.62,239.08 473.96,239.61 474.30,238.80 474.62,239.15 474.94,237.87 475.25,240.71 475.57,239.94 475.89,240.13 476.21,240.03 476.53,239.96 476.85,241.04 477.16,241.02 477.48,240.90 477.80,241.40 478.11,241.51 478.41,241.34 478.72,241.02 479.02,241.04 479.33,240.85 479.64,240.31 479.94,240.22 480.25,240.29 480.55,240.20 480.86,241.35 481.16,238.23 481.47,239.45 481.78,239.60 482.08,239.83 482.39,238.16 482.69,239.60 483.00,239.10 483.31,239.15 483.62,239.25 483.94,239.67 484.25,239.44 484.56,239.55 484.87,241.62 485.18,240.35 485.49,239.83 485.81,240.18 486.12,240.19 486.43,240.43 486.74,241.66 487.05,240.95 487.36,241.04 487.68,240.89 487.99,241.20 488.30,241.40 488.61,239.28 488.93,240.82 489.24,238.36 489.56,239.20 489.87,239.69 490.19,238.89 490.50,238.09 490.81,237.54 491.13,237.96 491.44,235.60 491.76,236.18 492.07,236.05 492.39,235.73 492.70,235.30 493.01,237.56 493.31,235.94 493.62,235.54 493.93,233.59 494.24,235.81 494.54,236.07 494.85,237.37 495.16,235.93 495.46,234.25 495.77,235.82 496.08,235.66 496.39,236.68 496.69,238.78 497.00,236.70 497.31,234.99 497.63,236.27 497.94,239.37 498.26,237.46 498.57,237.71 498.89,238.26 499.20,236.97 499.51,238.58 499.83,238.99 500.14,240.43 500.46,239.41 500.77,239.78 501.09,242.14 501.40,240.20 501.71,239.84 502.03,240.40 502.34,240.52 502.66,240.32 502.97,240.42 503.29,241.02 503.60,240.75 503.91,240.83 504.23,240.53 504.54,238.89 504.86,243.04 505.17,241.53 505.49,241.49 505.80,241.40 506.11,239.81 506.41,239.77 506.72,238.98 507.02,240.95 507.33,241.04 507.64,241.35 507.94,239.99 508.25,240.43 508.55,240.32 508.86,240.09 509.16,239.48 509.47,239.28 509.78,239.58 510.08,239.73 510.39,238.76 510.69,239.11 511.00,238.80 511.30,236.81 511.61,237.78 511.91,239.22 512.22,239.24 512.52,238.59 512.83,239.05 513.13,237.78 513.43,238.60 513.74,237.62 514.04,239.19 514.35,238.53 514.65,238.33 514.96,239.27 515.26,239.24 515.57,238.35 515.87,238.75 516.17,236.75 516.48,239.02 516.78,237.09 517.09,240.69 517.39,238.71 517.70,238.72 518.00,238.80 518.31,238.19 518.63,238.66 518.94,236.06 519.26,238.43 519.57,236.33 519.89,237.68 520.20,237.12 520.51,236.98 520.83,237.14 521.14,236.64 521.46,234.30 521.77,236.61 522.09,234.20 522.40,236.20 522.73,236.15 523.05,235.71 523.38,232.84 523.70,234.77 524.02,234.12 524.35,233.80 524.67,233.56 525.00,233.50 525.30,233.74 525.61,233.75 525.91,232.97 526.22,234.24 526.52,231.18 526.83,232.97 527.13,233.69 527.43,232.75 527.74,232.84 528.04,232.82 528.35,231.29 528.65,231.02 528.96,233.03 529.26,233.29 529.57,233.23 529.87,232.64 530.17,233.25 530.48,232.47 530.78,230.61 531.09,235.55 531.39,233.17 531.70,233.07 532.00,232.70 532.30,233.15 532.60,233.74 532.90,234.15 533.20,234.59 533.50,232.74 533.80,235.20 534.10,235.30 534.40,235.94 534.70,236.36 535.00,235.83 535.30,236.54 535.60,237.00 535.92,237.67 536.24,237.68 536.55,237.93 536.87,238.89 537.19,239.40 537.51,239.20 537.83,239.90 538.15,240.58 538.46,240.51 538.78,240.65 539.10,241.40 539.41,240.98 539.71,240.23 540.02,241.17 540.32,241.34 540.63,243.71 540.94,241.28 541.24,241.29 541.55,238.63 541.85,241.51 542.16,241.29 542.46,241.86 542.77,240.26 543.08,240.91 543.38,241.00 543.69,241.47 543.99,241.64 544.30,241.40 544.60,241.91 544.91,241.70 545.21,241.11 545.52,241.25 545.82,241.54 546.13,241.32 546.43,241.38 546.74,241.79 547.04,243.73 547.35,241.51 547.65,241.23 547.96,241.88 548.26,241.67 548.57,242.14 548.88,240.25 549.18,241.31 549.49,243.41 549.79,244.37 550.10,241.66 550.40,241.90 550.70,242.04 551.00,242.52 551.30,243.10 551.60,243.48 551.90,244.11 552.20,244.00 552.51,244.17 552.83,243.62 553.14,244.26 553.46,246.05 553.77,243.45 554.09,243.89 554.40,244.26 554.71,244.30 555.03,243.67 555.34,243.56 555.66,243.74 555.97,244.17 556.29,243.90 556.60,243.70 556.91,243.23 557.23,244.82 557.54,243.18 557.86,242.84 558.17,241.92 558.49,241.96 558.80,241.87 559.11,241.19 559.43,241.55 559.74,240.63 560.06,240.24 560.37,239.68 560.69,240.07 561.00,239.70 561.32,239.55 561.64,239.43 561.95,237.68 562.27,237.26 562.59,233.36 562.91,235.56 563.23,235.03 563.55,234.53 563.86,233.03 564.18,232.92 564.50,231.80 564.83,232.04 565.15,233.14 565.48,233.97 565.80,233.92 566.12,234.49 566.45,235.70 566.77,236.57 567.10,237.00 567.42,236.64 567.74,236.23 568.05,236.67 568.37,235.60 568.69,236.15 569.01,236.10 569.33,235.66 569.65,235.30 569.96,234.39 570.28,234.90 570.60,234.40 570.96,237.29 571.32,235.65 571.68,236.79 572.04,236.70 572.40,237.50 572.71,235.39 573.02,237.23 573.33,240.60 573.64,238.01 573.96,238.84 574.27,241.51 574.58,238.00 574.89,238.82 575.20,238.80 575.51,237.91 575.82,237.10 576.13,236.42 576.44,236.53 576.76,234.86 577.07,234.19 577.38,235.90 577.69,230.57 578.00,232.80 578.31,232.48 578.63,232.41 578.94,231.90 579.25,230.84 579.57,230.08 579.88,229.72 580.19,230.00 580.51,229.27 580.82,228.50 581.13,231.35 581.45,227.40 581.76,227.98 582.07,230.56 582.39,226.47 582.70,226.30 583.01,226.30 583.32,225.96 583.63,227.53 583.94,229.08 584.26,229.10 584.57,229.60 584.88,231.29 585.19,228.51 585.50,231.90 585.81,231.39 586.12,232.45 586.43,232.67 586.74,232.80 587.06,231.86 587.37,232.26 587.68,233.22 587.99,232.74 588.30,232.80 588.61,232.28 588.91,232.26 589.22,231.28 589.53,231.72 589.83,231.29 590.14,230.12 590.45,228.36 590.75,229.92 591.06,228.80 591.37,229.44 591.67,228.10 591.98,226.36 592.29,228.02 592.59,227.92 592.90,227.20 593.22,224.93 593.53,227.62 593.85,225.62 594.17,229.61 594.48,230.07 594.80,230.00 595.11,229.27 595.42,231.53 595.73,227.81 596.04,226.91 596.36,223.31 596.67,224.50 596.98,224.88 597.29,223.28 597.60,222.60 598.05,218.82 598.50,214.20 598.80,212.69 599.10,215.13 599.40,217.94 599.70,219.28 600.00,221.00 600.31,221.39 600.63,221.20 600.94,217.16 601.26,217.83 601.57,219.70 601.89,219.46 602.20,219.80 602.53,218.18 602.86,214.90 603.19,213.49 603.51,211.29 603.84,209.28 604.17,209.06 604.50,204.90 604.86,208.76 605.22,209.79 605.58,217.07 605.94,220.09 606.30,224.50 606.60,220.58 606.90,216.91 607.20,213.94 607.50,209.81 607.80,206.80 608.12,208.49 608.43,208.75 608.75,210.24 609.07,211.28 609.38,213.59 609.70,214.20 610.01,209.71 610.32,210.03 610.63,210.68 610.94,209.86 611.26,208.84 611.57,207.94 611.88,208.13 612.19,205.67 612.50,204.00 612.83,205.05 613.15,206.98 613.47,208.40 613.80,210.50 614.10,207.59 614.40,206.71 614.70,205.12 615.00,203.40 615.30,201.20 615.60,209.28 615.90,215.77 616.20,223.50 616.52,220.19 616.83,221.78 617.15,220.55 617.47,220.09 617.78,216.10 618.10,218.90 618.41,219.48 618.72,220.37 619.03,223.38 619.34,222.40 619.66,223.55 619.97,223.86 620.28,224.83 620.59,225.11 620.90,226.30 621.21,227.03 621.52,224.11 621.83,229.04 622.13,227.09 622.44,225.43 622.75,227.85 623.06,225.70 623.37,228.42 623.67,226.38 623.98,228.08 624.29,229.16 624.60,229.10 624.91,228.74 625.21,228.90 625.52,228.50 625.83,227.47 626.13,226.81 626.44,227.35 626.75,226.44 627.05,225.73 627.36,223.14 627.67,225.59 627.97,222.73 628.28,224.83 628.59,222.15 628.89,221.65 629.20,223.50 629.52,225.14 629.83,222.79 630.15,227.96 630.47,229.28 630.78,231.56 631.10,232.80 631.42,230.20 631.73,228.95 632.05,225.87 632.37,226.40 632.68,221.60 633.00,219.80 633.33,223.12 633.65,226.76 633.97,229.72 634.30,233.80 634.60,232.25 634.90,229.21 635.20,227.34 635.50,223.82 635.80,224.41 636.10,220.34 636.40,219.71 636.70,217.90 637.02,220.95 637.33,222.31 637.65,225.67 637.97,228.31 638.28,228.39 638.60,232.80 638.94,230.96 639.27,232.73 639.61,234.06 639.95,231.44 640.29,233.46 640.62,237.95 640.96,231.83 641.30,234.70 641.62,235.49 641.93,235.65 642.25,235.24 642.57,236.59 642.88,236.15 643.20,236.85 643.52,234.49 643.83,237.96 644.15,237.52 644.47,238.82 644.78,239.37 645.10,239.30 645.41,239.62 645.72,238.45 646.03,235.30 646.34,237.47 646.66,237.45 646.97,237.52 647.28,237.19 647.59,235.34 647.90,236.60 648.21,236.62 648.52,234.99 648.83,234.49 649.13,233.90 649.44,232.85 649.75,232.41 650.06,231.58 650.37,231.29 650.67,231.06 650.98,229.88 651.29,229.23 651.60,229.10 651.91,231.06 652.22,230.53 652.53,231.17 652.84,231.89 653.16,233.64 653.47,234.19 653.78,234.48 654.09,236.37 654.40,236.60 654.71,234.21 655.02,233.28 655.33,228.41 655.64,229.03 655.96,227.72 656.27,225.60 656.58,223.03 656.89,221.87 657.20,219.80 657.51,221.01 657.82,219.51 658.13,221.95 658.44,223.56 658.76,224.10 659.07,225.33 659.38,225.97 659.69,225.80 660.00,227.20 660.31,226.28 660.62,226.66 660.92,225.37 661.23,225.63 661.54,224.45 661.85,224.56 662.16,222.87 662.47,222.92 662.78,221.85 663.08,221.62 663.39,221.09 663.70,220.70 664.01,221.77 664.32,223.37 664.63,223.93 664.94,226.18 665.26,227.11 665.57,228.11 665.88,229.47 666.19,230.99 666.50,231.90 666.81,231.58 667.12,230.68 667.43,232.49 667.74,229.45 668.06,228.46 668.37,225.52 668.68,223.34 668.99,226.61 669.30,225.40" fill="none" stroke="#ec9a52" stroke-width="0.65" stroke-linejoin="round"/>
<g stroke="#888" stroke-width="0.7">
<path d="M331.5,298.70 L334.5,298.70"/>
<path d="M331.5,287.50 L334.5,287.50"/>
<path d="M331.5,276.30 L334.5,276.30"/>
<path d="M331.5,265.10 L334.5,265.10"/>
<path d="M331.5,253.90 L334.5,253.90"/>
<path d="M332.9,293.10 L334.5,293.10"/>
<path d="M332.9,281.90 L334.5,281.90"/>
<path d="M332.9,270.70 L334.5,270.70"/>
<path d="M332.9,259.50 L334.5,259.50"/>
</g>
<text x="330.60" y="300.90" font-size="6.2" fill="#444" text-anchor="end" font-weight="normal" >−2</text>
<text x="330.60" y="289.70" font-size="6.2" fill="#444" text-anchor="end" font-weight="normal" >−1</text>
<text x="330.60" y="278.50" font-size="6.2" fill="#444" text-anchor="end" font-weight="normal" >0</text>
<text x="330.60" y="267.30" font-size="6.2" fill="#444" text-anchor="end" font-weight="normal" >1</text>
<text x="330.60" y="256.10" font-size="6.2" fill="#444" text-anchor="end" font-weight="normal" >2</text>
<text x="303.30" y="278.30" font-size="6.1" fill="#333" text-anchor="middle" font-weight="normal" transform="rotate(-90 303.30 278.30)" >Finger skin</text>
<text x="310.50" y="278.30" font-size="6.1" fill="#333" text-anchor="middle" font-weight="normal" transform="rotate(-90 310.50 278.30)" >conductance (μS)</text>
<text x="317.70" y="278.30" font-size="6.1" fill="#333" text-anchor="middle" font-weight="normal" transform="rotate(-90 317.70 278.30)" >(phasic EDA)</text>
<polyline points="349.00,276.15 349.28,276.59 349.56,276.11 349.84,276.46 350.12,276.17 350.40,276.59 350.68,275.97 350.96,276.64 351.24,276.12 351.52,276.58 351.80,276.16 352.08,276.64 352.36,276.00 352.64,276.47 352.92,276.08 353.20,276.44 353.48,276.12 353.76,276.59 354.04,276.15 354.32,276.61 354.60,276.05 354.88,276.59 355.16,275.97 355.44,276.49 355.72,275.99 356.00,276.49 356.28,276.11 356.56,276.43 356.84,275.97 357.12,276.56 357.40,276.01 357.68,276.63 357.96,275.95 358.24,276.59 358.52,276.13 358.80,276.50 359.08,276.16 359.36,276.49 359.64,276.11 359.92,276.61 360.20,276.16 360.48,276.59 360.76,276.04 361.04,276.62 361.32,276.08 361.60,276.60 361.88,275.98 362.16,276.49 362.44,276.17 362.72,276.41 363.00,276.14 363.28,276.42 363.56,276.15 363.84,276.50 364.12,275.96 364.40,276.56 364.68,276.08 364.96,276.58 365.24,275.98 365.52,276.43 365.80,275.99 366.08,276.52 366.36,275.98 366.64,276.46 366.92,276.11 367.20,276.58 367.48,275.97 367.76,276.55 368.04,276.02 368.32,276.43 368.60,275.99 368.88,276.49 369.16,276.01 369.44,276.46 369.72,275.95 370.00,276.50 370.28,275.97 370.56,276.48 370.84,276.02 371.12,276.54 371.40,276.03 371.68,276.64 371.96,276.06 372.24,276.81 372.52,275.51 372.80,277.30 373.08,275.32 373.36,276.60 373.64,275.49 373.92,277.04 374.20,275.67 374.48,276.52 374.76,275.92 375.04,276.65 375.32,276.06 375.60,276.62 375.88,275.96 376.16,276.68 376.44,276.08 376.72,276.62 377.00,275.95 377.28,276.51 377.56,275.91 377.84,276.68 378.12,276.06 378.40,277.18 378.68,275.06 378.96,276.88 379.24,274.71 379.52,277.10 379.80,274.77 380.08,277.37 380.36,275.44 380.64,276.95 380.92,275.38 381.20,276.66 381.48,276.13 381.76,276.55 382.04,276.09 382.32,276.59 382.60,275.99 382.88,276.60 383.16,275.96 383.44,276.50 383.72,275.92 384.00,276.58 384.28,275.87 384.56,276.86 384.84,275.82 385.12,279.03 385.40,274.72 385.68,277.96 385.96,274.89 386.24,277.57 386.52,274.44 386.80,278.50 387.08,275.18 387.36,277.72 387.64,275.33 387.92,276.99 388.20,275.88 388.48,276.57 388.76,275.68 389.04,276.68 389.32,275.83 389.60,277.10 389.88,275.49 390.16,277.43 390.44,275.34 390.72,277.79 391.00,275.22 391.28,277.66 391.56,274.02 391.84,277.49 392.12,273.58 392.40,280.37 392.68,275.41 392.96,277.21 393.24,275.67 393.52,277.45 393.80,275.40 394.08,276.96 394.36,275.95 394.64,276.88 394.92,275.51 395.20,276.85 395.48,275.43 395.76,277.08 396.04,275.82 396.32,277.91 396.60,274.75 396.88,277.26 397.16,274.50 397.44,278.79 397.72,273.81 398.00,277.69 398.28,275.27 398.56,278.26 398.84,275.60 399.12,276.82 399.40,275.56 399.68,276.94 399.96,275.99 400.24,277.12 400.52,275.33 400.80,277.85 401.08,274.77 401.36,279.07 401.64,273.98 401.92,277.77 402.20,269.78 402.48,279.09 402.76,275.40 403.04,277.78 403.32,274.92 403.60,277.11 403.88,275.37 404.16,277.00 404.44,275.76 404.72,277.54 405.00,274.86 405.28,278.33 405.56,275.06 405.84,277.60 406.12,275.07 406.40,278.38 406.68,273.05 406.96,279.73 407.24,274.80 407.52,278.95 407.80,273.61 408.08,279.87 408.36,273.22 408.64,278.03 408.92,273.29 409.20,278.79 409.48,274.02 409.76,277.22 410.04,274.55 410.32,277.68 410.60,275.48 410.88,277.22 411.16,275.73 411.44,277.13 411.72,275.71 412.00,276.86 412.28,275.53 412.56,277.55 412.84,274.89 413.12,278.38 413.40,274.37 413.68,278.23 413.96,274.97 414.24,277.26 414.52,275.18 414.80,282.41 415.08,274.26 415.36,278.95 415.64,273.22 415.92,277.55 416.20,275.13 416.48,278.17 416.76,275.18 417.04,277.86 417.32,275.25 417.60,277.18 417.88,275.09 418.16,277.44 418.44,275.65 418.72,276.89 419.00,275.40 419.28,277.05 419.56,275.86 419.84,277.14 420.12,275.10 420.40,277.72 420.68,274.94 420.96,277.40 421.24,274.30 421.52,278.15 421.80,273.48 422.08,277.67 422.36,274.57 422.64,279.04 422.92,274.65 423.20,277.34 423.48,275.64 423.76,276.73 424.04,275.82 424.32,276.97 424.60,275.55 424.88,277.23 425.16,275.65 425.44,277.04 425.72,275.61 426.00,277.24 426.28,275.36 426.56,276.59 426.84,275.73 427.12,277.08 427.40,274.23 427.68,279.34 427.96,273.57 428.24,278.51 428.52,272.90 428.80,280.67 429.08,273.93 429.36,279.25 429.64,275.89 429.92,276.66 430.20,275.83 430.48,276.93 430.76,275.36 431.04,277.32 431.32,274.86 431.60,277.04 431.88,275.20 432.16,277.68 432.44,273.73 432.72,279.05 433.00,274.18 433.28,278.54 433.56,274.83 433.84,277.50 434.12,275.37 434.40,277.72 434.68,275.61 434.96,277.23 435.24,275.73 435.52,276.60 435.80,275.73 436.08,277.10 436.36,275.46 436.64,276.65 436.92,275.75 437.20,277.10 437.48,275.56 437.76,276.89 438.04,275.39 438.32,276.81 438.60,275.80 438.88,276.88 439.16,275.22 439.44,277.61 439.72,275.29 440.00,277.48 440.28,274.05 440.56,277.79 440.84,275.46 441.12,278.59 441.40,275.25 441.68,277.16 441.96,274.99 442.24,278.24 442.52,274.83 442.80,277.91 443.08,274.83 443.36,279.25 443.64,275.41 443.92,276.78 444.20,275.21 444.48,276.77 444.76,275.86 445.04,277.05 445.32,275.91 445.60,276.95 445.88,275.39 446.16,276.93 446.44,275.88 446.72,276.92 447.00,275.82 447.28,277.14 447.56,275.71 447.84,277.02 448.12,274.55 448.40,282.12 448.68,273.84 448.96,279.88 449.24,276.06 449.52,276.54 449.80,276.06 450.08,276.60 450.36,276.21 450.64,276.54 450.92,276.08 451.20,276.57 451.48,276.19 451.76,276.68 452.04,276.14 452.32,276.60 452.60,276.02 452.88,276.57 453.16,276.01 453.44,276.59 453.72,276.17 454.00,276.49 454.28,276.13 454.56,276.51 454.84,276.15 455.12,276.50 455.40,276.07 455.68,276.50 455.96,276.05 456.24,276.55 456.52,276.16 456.80,276.50 457.08,276.15 457.36,276.54 457.64,276.11 457.92,276.43 458.20,276.13 458.48,276.47 458.76,276.06 459.04,276.44 459.32,276.07 459.60,276.52 459.88,276.15 460.16,276.47 460.44,276.01 460.72,276.53 461.00,276.04 461.28,276.46 461.56,276.04 461.84,276.49 462.12,276.15 462.40,276.54 462.68,276.03 462.96,276.48 463.24,276.14 463.52,276.43 463.80,276.15 464.08,276.57 464.36,276.03 464.64,276.48 464.92,276.05 465.20,276.42 465.48,276.12 465.76,276.52 466.04,276.08 466.32,277.08 466.60,275.72 466.88,276.84 467.16,276.00 467.44,276.84 467.72,275.95 468.00,276.93 468.28,275.98 468.56,276.79 468.84,276.07 469.12,276.83 469.40,275.84 469.68,276.61 469.96,275.89 470.24,276.95 470.52,275.61 470.80,276.93 471.08,275.80 471.36,276.53 471.64,275.69 471.92,276.89 472.20,275.61 472.48,276.70 472.76,275.78 473.04,276.92 473.32,275.90 473.60,276.56 473.88,275.72 474.16,277.00 474.44,275.86 474.72,276.51 475.00,276.05 475.28,276.72 475.56,275.95 475.84,276.76 476.12,276.01 476.40,276.75 476.68,275.67 476.96,276.94 477.24,275.93 477.52,276.79 477.80,276.05 478.08,276.69 478.36,275.77 478.64,276.67 478.92,275.68 479.20,276.71 479.48,275.91 479.76,276.59 480.04,275.76 480.32,276.71 480.60,275.70 480.88,276.92 481.16,275.73 481.44,276.62 481.72,275.76 482.00,276.75 482.28,275.64 482.56,277.43 482.84,275.58 483.12,276.89 483.40,275.67 483.68,277.08 483.96,275.71 484.24,277.40 484.52,275.53 484.80,277.32 485.08,275.03 485.36,276.98 485.64,274.98 485.92,277.54 486.20,275.38 486.48,277.61 486.76,275.74 487.04,276.78 487.32,274.83 487.60,277.03 487.88,275.66 488.16,278.78 488.44,275.39 488.72,277.47 489.00,274.94 489.28,277.69 489.56,275.82 489.84,276.82 490.12,275.19 490.40,276.92 490.68,275.56 490.96,277.70 491.24,274.81 491.52,277.59 491.80,274.88 492.08,277.52 492.36,275.75 492.64,277.33 492.92,274.94 493.20,277.48 493.48,275.02 493.76,276.96 494.04,275.55 494.32,277.62 494.60,275.12 494.88,276.99 495.16,274.85 495.44,277.29 495.72,275.82 496.00,277.53 496.28,275.48 496.56,277.11 496.84,275.16 497.12,277.30 497.40,274.89 497.68,277.28 497.96,275.64 498.24,277.12 498.52,275.75 498.80,277.42 499.08,275.45 499.36,276.98 499.64,275.85 499.92,277.02 500.20,275.82 500.48,276.82 500.76,275.71 501.04,276.93 501.32,275.76 501.60,276.72 501.88,275.62 502.16,276.56 502.44,275.84 502.72,276.62 503.00,275.90 503.28,276.60 503.56,276.00 503.84,276.77 504.12,275.84 504.40,276.52 504.68,275.99 504.96,276.89 505.24,275.83 505.52,276.89 505.80,275.73 506.08,276.79 506.36,275.91 506.64,276.54 506.92,275.75 507.20,276.78 507.48,276.04 507.76,276.94 508.04,275.97 508.32,276.63 508.60,275.85 508.88,276.66 509.16,275.91 509.44,276.86 509.72,275.68 510.00,276.56 510.28,275.71 510.56,276.61 510.84,275.72 511.12,276.97 511.40,275.94 511.68,276.97 511.96,275.87 512.24,276.89 512.52,275.86 512.80,276.71 513.08,275.89 513.36,276.78 513.64,275.81 513.92,276.78 514.20,276.05 514.48,276.94 514.76,276.08 515.04,276.82 515.32,275.86 515.60,276.66 515.88,275.73 516.16,276.82 516.44,275.77 516.72,276.73 517.00,275.80 517.28,276.57 517.56,275.95 517.84,276.66 518.12,275.69 518.40,276.87 518.68,275.63 518.96,276.86 519.24,276.00 519.52,276.76 519.80,276.03 520.08,277.07 520.36,275.45 520.64,276.99 520.92,275.51 521.20,277.62 521.48,275.06 521.76,276.87 522.04,275.38 522.32,276.96 522.60,275.05 522.88,276.91 523.16,275.40 523.44,277.69 523.72,275.26 524.00,276.79 524.28,274.89 524.56,277.37 524.84,275.78 525.12,276.86 525.40,273.93 525.68,276.88 525.96,275.83 526.24,276.98 526.52,275.75 526.80,277.29 527.08,274.99 527.36,277.01 527.64,274.97 527.92,277.53 528.20,274.86 528.48,277.38 528.76,275.74 529.04,277.48 529.32,275.09 529.60,277.27 529.88,275.39 530.16,276.80 530.44,275.96 530.72,276.55 531.00,275.85 531.28,276.57 531.56,275.84 531.84,276.69 532.12,275.65 532.40,276.99 532.68,275.60 532.96,276.64 533.24,275.79 533.52,277.00 533.80,275.69 534.08,276.55 534.36,276.00 534.64,276.81 534.92,275.86 535.20,276.56 535.48,276.04 535.76,276.83 536.04,276.07 536.32,276.98 536.60,275.88 536.88,276.85 537.16,275.77 537.44,276.79 537.72,276.00 538.00,276.98 538.28,275.60 538.56,276.92 538.84,275.73 539.12,276.97 539.40,275.66 539.68,276.90 539.96,275.94 540.24,276.90 540.52,275.68 540.80,276.59 541.08,275.81 541.36,276.67 541.64,276.01 541.92,276.62 542.20,275.93 542.48,276.66 542.76,275.48 543.04,277.28 543.32,275.29 543.60,276.62 543.88,276.08 544.16,276.86 544.44,275.84 544.72,276.65 545.00,275.91 545.28,277.68 545.56,273.20 545.84,277.60 546.12,275.27 546.40,276.91 546.68,275.57 546.96,276.95 547.24,275.25 547.52,277.41 547.80,274.88 548.08,277.35 548.36,274.88 548.64,276.86 548.92,275.11 549.20,277.43 549.48,274.87 549.76,277.22 550.04,275.05 550.32,276.87 550.60,275.00 550.88,277.47 551.16,275.72 551.44,277.27 551.72,274.85 552.00,277.22 552.28,275.19 552.56,277.77 552.84,275.77 553.12,276.77 553.40,275.42 553.68,277.18 553.96,275.03 554.24,277.00 554.52,275.33 554.80,277.43 555.08,275.51 555.36,277.80 555.64,274.94 555.92,276.81 556.20,275.68 556.48,276.98 556.76,275.80 557.04,276.52 557.32,275.96 557.60,276.54 557.88,275.91 558.16,276.71 558.44,275.73 558.72,276.80 559.00,275.80 559.28,276.99 559.56,276.07 559.84,276.84 560.12,275.64 560.40,276.95 560.68,275.81 560.96,276.66 561.24,275.79 561.52,276.78 561.80,275.81 562.08,276.88 562.36,276.03 562.64,276.88 562.92,275.48 563.20,276.83 563.48,275.73 563.76,277.85 564.04,275.35 564.32,279.31 564.60,274.54 564.88,277.69 565.16,274.13 565.44,278.39 565.72,274.25 566.00,278.61 566.28,275.14 566.56,277.46 566.84,274.96 567.12,277.01 567.40,275.50 567.68,276.71 567.96,275.50 568.24,277.05 568.52,275.73 568.80,276.59 569.08,275.96 569.36,276.87 569.64,275.25 569.92,277.90 570.20,275.43 570.48,278.45 570.76,273.73 571.04,279.52 571.32,273.75 571.60,278.73 571.88,274.20 572.16,278.94 572.44,274.14 572.72,277.42 573.00,274.87 573.28,277.32 573.56,275.78 573.84,276.63 574.12,275.53 574.40,276.96 574.68,275.98 574.96,277.00 575.24,275.99 575.52,277.01 575.80,275.57 576.08,276.61 576.36,275.58 576.64,276.65 576.92,275.87 577.20,276.79 577.48,275.13 577.76,277.29 578.04,275.40 578.32,277.61 578.60,274.06 578.88,278.18 579.16,275.21 579.44,277.71 579.72,274.01 580.00,277.78 580.28,273.77 580.56,278.08 580.84,273.65 581.12,278.02 581.40,273.77 581.68,277.65 581.96,274.48 582.24,277.45 582.52,273.52 582.80,277.89 583.08,272.60 583.36,277.85 583.64,273.03 583.92,279.35 584.20,273.66 584.48,278.75 584.76,272.55 585.04,280.09 585.32,272.40 585.60,280.08 585.88,272.66 586.16,286.03 586.44,272.81 586.72,279.82 587.00,272.99 587.28,278.65 587.56,272.86 587.84,277.75 588.12,274.48 588.40,278.66 588.68,272.61 588.96,279.27 589.24,273.12 589.52,279.13 589.80,272.35 590.08,278.48 590.36,274.62 590.64,279.15 590.92,273.91 591.20,278.38 591.48,273.85 591.76,279.08 592.04,274.95 592.32,278.47 592.60,272.61 592.88,279.68 593.16,273.59 593.44,279.29 593.72,273.17 594.00,280.07 594.28,271.90 594.56,279.33 594.84,274.98 595.12,277.60 595.40,273.35 595.68,278.75 595.96,274.58 596.24,279.78 596.52,273.10 596.80,279.76 597.08,273.27 597.36,279.07 597.64,272.37 597.92,278.99 598.20,274.82 598.48,278.15 598.76,275.06 599.04,279.93 599.32,273.09 599.60,278.15 599.88,274.26 600.16,278.92 600.44,272.93 600.72,281.05 601.00,264.52 601.28,277.84 601.56,273.56 601.84,278.80 602.12,272.23 602.40,280.28 602.68,274.74 602.96,278.47 603.24,274.86 603.52,279.98 603.80,272.72 604.08,280.20 604.36,274.17 604.64,279.75 604.92,274.20 605.20,281.35 605.48,272.41 605.76,278.32 606.04,274.47 606.32,278.24 606.60,274.01 606.88,278.65 607.16,271.71 607.44,280.26 607.72,272.97 608.00,280.93 608.28,274.82 608.56,278.82 608.84,273.41 609.12,277.82 609.40,270.11 609.68,278.65 609.96,274.47 610.24,278.14 610.52,274.02 610.80,279.24 611.08,273.09 611.36,280.17 611.64,271.78 611.92,279.63 612.20,273.75 612.48,280.72 612.76,274.53 613.04,286.47 613.32,274.06 613.60,280.54 613.88,273.19 614.16,278.39 614.44,273.43 614.72,278.37 615.00,274.72 615.28,278.14 615.56,273.09 615.84,280.41 616.12,272.77 616.40,278.17 616.68,272.29 616.96,280.87 617.24,273.52 617.52,278.90 617.80,271.87 618.08,279.57 618.36,274.47 618.64,280.34 618.92,272.84 619.20,280.96 619.48,272.23 619.76,278.81 620.04,273.48 620.32,277.89 620.60,273.57 620.88,279.32 621.16,273.85 621.44,277.82 621.72,274.59 622.00,280.02 622.28,272.57 622.56,279.98 622.84,273.29 623.12,283.25 623.40,273.99 623.68,279.61 623.96,275.08 624.24,279.53 624.52,272.51 624.80,278.00 625.08,272.77 625.36,278.99 625.64,274.06 625.92,277.45 626.20,275.01 626.48,277.72 626.76,272.92 627.04,277.55 627.32,273.85 627.60,277.83 627.88,273.03 628.16,279.77 628.44,274.45 628.72,278.66 629.00,273.64 629.28,278.80 629.56,272.53 629.84,277.48 630.12,274.33 630.40,281.98 630.68,273.87 630.96,279.30 631.24,273.14 631.52,279.38 631.80,273.68 632.08,279.50 632.36,274.24 632.64,279.58 632.92,274.85 633.20,277.72 633.48,273.18 633.76,279.51 634.04,273.66 634.32,279.16 634.60,273.59 634.88,279.45 635.16,274.82 635.44,278.56 635.72,273.67 636.00,278.48 636.28,274.17 636.56,279.50 636.84,274.11 637.12,279.01 637.40,271.91 637.68,279.94 637.96,273.92 638.24,277.60 638.52,272.94 638.80,278.12 639.08,273.04 639.36,278.47 639.64,273.04 639.92,279.72 640.20,273.58 640.48,279.34 640.76,272.74 641.04,276.76 641.32,275.20 641.60,277.68 641.88,275.19 642.16,277.35 642.44,275.63 642.72,277.34 643.00,275.78 643.28,276.96 643.56,275.85 643.84,276.47 644.12,276.09 644.40,276.68 644.68,276.02 644.96,276.54 645.24,275.93 645.52,276.49 645.80,275.83 646.08,276.69 646.36,275.53 646.64,276.73 646.92,275.84 647.20,276.70 647.48,275.68 647.76,276.73 648.04,275.89 648.32,276.85 648.60,275.46 648.88,276.92 649.16,275.52 649.44,276.82 649.72,275.92 650.00,276.79 650.28,275.93 650.56,276.52 650.84,276.04 651.12,276.54 651.40,276.13 651.68,276.51 651.96,275.69 652.24,276.54 652.52,276.11 652.80,276.64 653.08,276.09 653.36,276.67 653.64,275.79 653.92,277.27 654.20,275.10 654.48,276.85 654.76,275.65 655.04,278.48 655.32,273.94 655.60,277.85 655.88,273.65 656.16,277.30 656.44,274.97 656.72,277.24 657.00,275.15 657.28,277.16 657.56,275.74 657.84,277.07 658.12,275.69 658.40,276.68 658.68,275.53 658.96,277.53 659.24,275.33 659.52,278.86 659.80,275.07 660.08,278.62 660.36,275.05 660.64,277.29 660.92,275.28 661.20,277.31 661.48,275.67 661.76,276.79 662.04,275.61 662.32,276.71 662.60,275.74 662.88,276.60 663.16,275.49 663.44,276.77 663.72,274.95 664.00,277.04 664.28,275.26 664.56,277.15 664.84,275.52 665.12,277.59 665.40,275.33 665.68,276.79 665.96,275.33 666.24,277.04 666.52,275.77 666.80,276.85 667.08,275.93 667.36,277.45 667.64,275.25 667.92,277.14 668.20,274.02 668.48,279.01 668.76,275.05 669.04,278.76 669.32,274.67 669.60,278.73" fill="none" stroke="#d52d2a" stroke-width="0.6" stroke-linejoin="round"/>
<path d="M563.20,276.3 L563.20,282.40 M577.50,276.3 L577.50,269.60 M591.50,276.3 L591.50,265.40 M595.90,276.3 L595.90,285.90 M606.40,276.3 L606.40,260.90 M606.90,276.3 L606.90,297.00 M613.40,276.3 L613.40,299.60 M614.30,276.3 L614.30,263.10 M617.80,276.3 L617.80,292.00 M618.30,276.3 L618.30,264.90 M627.40,276.3 L627.40,283.30 M631.80,276.3 L631.80,285.90 M637.00,276.3 L637.00,284.20 M663.30,276.3 L663.30,285.90 M411.00,276.3 L411.00,281.00 M406.00,276.3 L406.00,272.00 M431.00,276.3 L431.00,280.50 M436.00,276.3 L436.00,272.50 M553.00,276.3 L553.00,281.00 M555.00,276.3 L555.00,270.00 M520.00,276.3 L520.00,282.00 M604.00,276.3 L604.00,290.00 M609.00,276.3 L609.00,268.00 M611.00,276.3 L611.00,292.00 M601.00,276.3 L601.00,270.00 M598.00,276.3 L598.00,287.00 M622.00,276.3 L622.00,288.00 M625.00,276.3 L625.00,268.00 M586.00,276.3 L586.00,284.00 M589.00,276.3 L589.00,268.00 M597.00,276.3 L597.00,288.00 M600.00,276.3 L600.00,290.00 M603.00,276.3 L603.00,287.00 M605.00,276.3 L605.00,293.00 M608.00,276.3 L608.00,289.00 M610.00,276.3 L610.00,294.00 M612.00,276.3 L612.00,286.00 M616.00,276.3 L616.00,289.00 M620.00,276.3 L620.00,286.00 M594.00,276.3 L594.00,284.00 M633.00,276.3 L633.00,283.00 M636.00,276.3 L636.00,270.00 M640.00,276.3 L640.00,282.00 M646.00,276.3 L646.00,280.00 M659.00,276.3 L659.00,281.00 M665.00,276.3 L665.00,271.00" stroke="#d52d2a" stroke-width="0.7"/>
</svg>
</body></html>
